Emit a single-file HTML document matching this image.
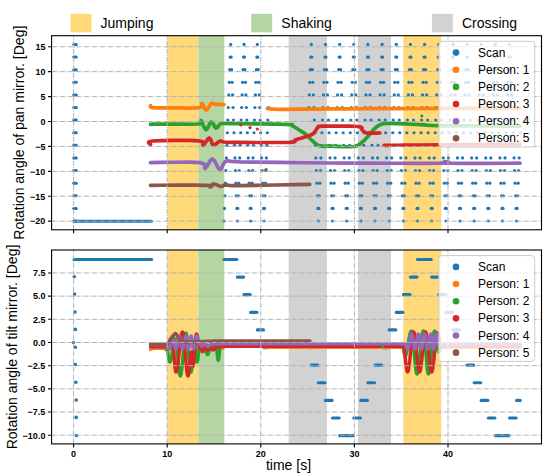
<!DOCTYPE html>
<html><head><meta charset="utf-8"><style>html,body{margin:0;padding:0;background:#fff;width:550px;height:476px;overflow:hidden}svg{display:block}</style></head><body>
<svg width="550" height="476" viewBox="0 0 550 476">
<rect width="550" height="476" fill="#fff"/>
<defs><clipPath id="ct"><rect x="51.6" y="35.7" width="489.9" height="194.1"/></clipPath><clipPath id="cb"><rect x="51.6" y="250" width="489.9" height="193.9"/></clipPath></defs>
<rect x="167.4" y="35.7" width="31" height="194.1" fill="#ffd97a"/>
<rect x="198.4" y="35.7" width="25.9" height="194.1" fill="#b5d6a2"/>
<rect x="288.7" y="35.7" width="38.2" height="194.1" fill="#d2d2d2"/>
<rect x="358" y="35.7" width="33" height="194.1" fill="#d2d2d2"/>
<rect x="403.3" y="35.7" width="38" height="194.1" fill="#ffd97a"/>
<rect x="167.4" y="250" width="31" height="193.9" fill="#ffd97a"/>
<rect x="198.4" y="250" width="25.9" height="193.9" fill="#b5d6a2"/>
<rect x="288.7" y="250" width="38.2" height="193.9" fill="#d2d2d2"/>
<rect x="358" y="250" width="33" height="193.9" fill="#d2d2d2"/>
<rect x="403.3" y="250" width="38" height="193.9" fill="#ffd97a"/>
<g clip-path="url(#ct)">
<g fill="#1f77b4">
<rect x="72.2" y="219.5" width="5.6" height="3" rx="1.5"/>
<rect x="72.2" y="206.89" width="5.6" height="3" rx="1.5"/>
<rect x="72.2" y="194.28" width="5.6" height="3" rx="1.5"/>
<rect x="72.2" y="181.67" width="5.6" height="3" rx="1.5"/>
<rect x="72.2" y="169.06" width="5.6" height="3" rx="1.5"/>
<rect x="72.2" y="156.45" width="5.6" height="3" rx="1.5"/>
<rect x="72.2" y="143.84" width="5.6" height="3" rx="1.5"/>
<rect x="72.2" y="131.23" width="5.6" height="3" rx="1.5"/>
<rect x="72.2" y="118.62" width="5.6" height="3" rx="1.5"/>
<rect x="72.2" y="106.01" width="5.6" height="3" rx="1.5"/>
<rect x="72.2" y="93.4" width="5.6" height="3" rx="1.5"/>
<rect x="72.2" y="80.79" width="5.6" height="3" rx="1.5"/>
<rect x="72.2" y="68.18" width="5.6" height="3" rx="1.5"/>
<rect x="72.2" y="55.57" width="5.6" height="3" rx="1.5"/>
<rect x="72.2" y="42.96" width="5.6" height="3" rx="1.5"/>
</g>
<path d="M74.5 221.2 L151.5 221.2" fill="none" stroke="#1f77b4" stroke-width="3" stroke-linecap="round" stroke-linejoin="round"/>
<g fill="#1f77b4">
<circle cx="224" cy="221" r="1.6"/>
<circle cx="224.48" cy="208.39" r="1.6"/>
<circle cx="224.95" cy="195.78" r="1.6"/>
<circle cx="225.43" cy="183.17" r="1.6"/>
<circle cx="225.9" cy="170.56" r="1.6"/>
<circle cx="226.38" cy="157.95" r="1.6"/>
<circle cx="226.86" cy="145.34" r="1.6"/>
<circle cx="227.33" cy="132.73" r="1.6"/>
<circle cx="227.81" cy="120.12" r="1.6"/>
<circle cx="228.29" cy="107.51" r="1.6"/>
<circle cx="228.76" cy="94.9" r="1.6"/>
<circle cx="229.24" cy="82.29" r="1.6"/>
<circle cx="229.71" cy="69.68" r="1.6"/>
<circle cx="230.19" cy="57.07" r="1.6"/>
<circle cx="230.67" cy="44.46" r="1.6"/>
<circle cx="231.14" cy="57.07" r="1.6"/>
<circle cx="231.62" cy="69.68" r="1.6"/>
<circle cx="232.1" cy="82.29" r="1.6"/>
<circle cx="232.57" cy="94.9" r="1.6"/>
<circle cx="233.05" cy="107.51" r="1.6"/>
<circle cx="233.52" cy="120.12" r="1.6"/>
<circle cx="234" cy="132.73" r="1.6"/>
<circle cx="234.48" cy="145.34" r="1.6"/>
<circle cx="234.95" cy="157.95" r="1.6"/>
<circle cx="235.43" cy="170.56" r="1.6"/>
<circle cx="235.9" cy="183.17" r="1.6"/>
<circle cx="236.38" cy="195.78" r="1.6"/>
<circle cx="236.86" cy="208.39" r="1.6"/>
<circle cx="237.33" cy="221" r="1.6"/>
<circle cx="237.81" cy="208.39" r="1.6"/>
<circle cx="238.29" cy="195.78" r="1.6"/>
<circle cx="238.76" cy="183.17" r="1.6"/>
<circle cx="239.24" cy="170.56" r="1.6"/>
<circle cx="239.71" cy="157.95" r="1.6"/>
<circle cx="240.19" cy="145.34" r="1.6"/>
<circle cx="240.67" cy="132.73" r="1.6"/>
<circle cx="241.14" cy="120.12" r="1.6"/>
<circle cx="241.62" cy="107.51" r="1.6"/>
<circle cx="242.09" cy="94.9" r="1.6"/>
<circle cx="242.57" cy="82.29" r="1.6"/>
<circle cx="243.05" cy="69.68" r="1.6"/>
<circle cx="243.52" cy="57.07" r="1.6"/>
<circle cx="244" cy="44.46" r="1.6"/>
<circle cx="244.48" cy="57.07" r="1.6"/>
<circle cx="244.95" cy="69.68" r="1.6"/>
<circle cx="245.43" cy="82.29" r="1.6"/>
<circle cx="245.9" cy="94.9" r="1.6"/>
<circle cx="246.38" cy="107.51" r="1.6"/>
<circle cx="246.86" cy="120.12" r="1.6"/>
<circle cx="247.33" cy="132.73" r="1.6"/>
<circle cx="247.81" cy="145.34" r="1.6"/>
<circle cx="248.29" cy="157.95" r="1.6"/>
<circle cx="248.76" cy="170.56" r="1.6"/>
<circle cx="249.24" cy="183.17" r="1.6"/>
<circle cx="249.71" cy="195.78" r="1.6"/>
<circle cx="250.19" cy="208.39" r="1.6"/>
<circle cx="250.67" cy="221" r="1.6"/>
<circle cx="251.14" cy="208.39" r="1.6"/>
<circle cx="251.62" cy="195.78" r="1.6"/>
<circle cx="252.09" cy="183.17" r="1.6"/>
<circle cx="252.57" cy="170.56" r="1.6"/>
<circle cx="253.05" cy="157.95" r="1.6"/>
<circle cx="253.52" cy="145.34" r="1.6"/>
<circle cx="254" cy="132.73" r="1.6"/>
<circle cx="254.48" cy="120.12" r="1.6"/>
<circle cx="254.95" cy="107.51" r="1.6"/>
<circle cx="255.43" cy="94.9" r="1.6"/>
<circle cx="255.9" cy="82.29" r="1.6"/>
<circle cx="256.38" cy="69.68" r="1.6"/>
<circle cx="256.86" cy="57.07" r="1.6"/>
<circle cx="257.33" cy="44.46" r="1.6"/>
<circle cx="257.81" cy="57.07" r="1.6"/>
<circle cx="258.28" cy="69.68" r="1.6"/>
<circle cx="258.76" cy="82.29" r="1.6"/>
<circle cx="259.24" cy="94.9" r="1.6"/>
<circle cx="259.71" cy="107.51" r="1.6"/>
<circle cx="260.19" cy="120.12" r="1.6"/>
<circle cx="260.67" cy="132.73" r="1.6"/>
<circle cx="261.14" cy="145.34" r="1.6"/>
<circle cx="261.62" cy="157.95" r="1.6"/>
<circle cx="262.09" cy="170.56" r="1.6"/>
<circle cx="262.57" cy="183.17" r="1.6"/>
<circle cx="263.05" cy="195.78" r="1.6"/>
<circle cx="263.52" cy="208.39" r="1.6"/>
<circle cx="264" cy="221" r="1.6"/>
<circle cx="264.48" cy="208.39" r="1.6"/>
<circle cx="264.95" cy="195.78" r="1.6"/>
<circle cx="265.43" cy="183.17" r="1.6"/>
<circle cx="265.9" cy="170.56" r="1.6"/>
<circle cx="266.38" cy="157.95" r="1.6"/>
<circle cx="266.86" cy="145.34" r="1.6"/>
<circle cx="267.33" cy="132.73" r="1.6"/>
<circle cx="267.81" cy="120.12" r="1.6"/>
<circle cx="268.28" cy="107.51" r="1.6"/>
<circle cx="308.79" cy="107.51" r="1.6"/>
<circle cx="309.3" cy="94.9" r="1.6"/>
<circle cx="309.8" cy="82.29" r="1.6"/>
<circle cx="310.31" cy="69.68" r="1.6"/>
<circle cx="310.81" cy="57.07" r="1.6"/>
<circle cx="311.32" cy="44.46" r="1.6"/>
<circle cx="311.83" cy="57.07" r="1.6"/>
<circle cx="312.33" cy="69.68" r="1.6"/>
<circle cx="312.84" cy="82.29" r="1.6"/>
<circle cx="313.34" cy="94.9" r="1.6"/>
<circle cx="313.85" cy="107.51" r="1.6"/>
<circle cx="314.35" cy="120.12" r="1.6"/>
<circle cx="314.86" cy="132.73" r="1.6"/>
<circle cx="315.37" cy="145.34" r="1.6"/>
<circle cx="315.87" cy="157.95" r="1.6"/>
<circle cx="316.38" cy="170.56" r="1.6"/>
<circle cx="316.88" cy="183.17" r="1.6"/>
<circle cx="317.39" cy="195.78" r="1.6"/>
<circle cx="317.89" cy="208.39" r="1.6"/>
<circle cx="318.4" cy="221" r="1.6"/>
<circle cx="318.91" cy="208.39" r="1.6"/>
<circle cx="319.41" cy="195.78" r="1.6"/>
<circle cx="319.92" cy="183.17" r="1.6"/>
<circle cx="320.42" cy="170.56" r="1.6"/>
<circle cx="320.93" cy="157.95" r="1.6"/>
<circle cx="321.43" cy="145.34" r="1.6"/>
<circle cx="321.94" cy="132.73" r="1.6"/>
<circle cx="322.45" cy="120.12" r="1.6"/>
<circle cx="322.95" cy="107.51" r="1.6"/>
<circle cx="323.46" cy="94.9" r="1.6"/>
<circle cx="323.96" cy="82.29" r="1.6"/>
<circle cx="324.47" cy="69.68" r="1.6"/>
<circle cx="324.97" cy="57.07" r="1.6"/>
<circle cx="325.48" cy="44.46" r="1.6"/>
<circle cx="325.99" cy="57.07" r="1.6"/>
<circle cx="326.49" cy="69.68" r="1.6"/>
<circle cx="327" cy="82.29" r="1.6"/>
<circle cx="327.5" cy="94.9" r="1.6"/>
<circle cx="328.01" cy="107.51" r="1.6"/>
<circle cx="328.51" cy="120.12" r="1.6"/>
<circle cx="329.02" cy="132.73" r="1.6"/>
<circle cx="329.53" cy="145.34" r="1.6"/>
<circle cx="330.03" cy="157.95" r="1.6"/>
<circle cx="330.54" cy="170.56" r="1.6"/>
<circle cx="331.04" cy="183.17" r="1.6"/>
<circle cx="331.55" cy="195.78" r="1.6"/>
<circle cx="332.05" cy="208.39" r="1.6"/>
<circle cx="332.56" cy="221" r="1.6"/>
<circle cx="333.07" cy="208.39" r="1.6"/>
<circle cx="333.57" cy="195.78" r="1.6"/>
<circle cx="334.08" cy="183.17" r="1.6"/>
<circle cx="334.58" cy="170.56" r="1.6"/>
<circle cx="335.09" cy="157.95" r="1.6"/>
<circle cx="335.59" cy="145.34" r="1.6"/>
<circle cx="336.1" cy="132.73" r="1.6"/>
<circle cx="336.61" cy="120.12" r="1.6"/>
<circle cx="337.11" cy="107.51" r="1.6"/>
<circle cx="337.62" cy="94.9" r="1.6"/>
<circle cx="338.12" cy="82.29" r="1.6"/>
<circle cx="338.63" cy="69.68" r="1.6"/>
<circle cx="339.13" cy="57.07" r="1.6"/>
<circle cx="339.64" cy="44.46" r="1.6"/>
<circle cx="340.15" cy="57.07" r="1.6"/>
<circle cx="340.65" cy="69.68" r="1.6"/>
<circle cx="341.16" cy="82.29" r="1.6"/>
<circle cx="341.66" cy="94.9" r="1.6"/>
<circle cx="342.17" cy="107.51" r="1.6"/>
<circle cx="342.67" cy="120.12" r="1.6"/>
<circle cx="343.18" cy="132.73" r="1.6"/>
<circle cx="343.69" cy="145.34" r="1.6"/>
<circle cx="344.19" cy="157.95" r="1.6"/>
<circle cx="344.7" cy="170.56" r="1.6"/>
<circle cx="345.2" cy="183.17" r="1.6"/>
<circle cx="345.71" cy="195.78" r="1.6"/>
<circle cx="346.21" cy="208.39" r="1.6"/>
<circle cx="346.72" cy="221" r="1.6"/>
<circle cx="347.23" cy="208.39" r="1.6"/>
<circle cx="347.73" cy="195.78" r="1.6"/>
<circle cx="348.24" cy="183.17" r="1.6"/>
<circle cx="348.74" cy="170.56" r="1.6"/>
<circle cx="349.25" cy="157.95" r="1.6"/>
<circle cx="349.75" cy="145.34" r="1.6"/>
<circle cx="350.26" cy="132.73" r="1.6"/>
<circle cx="350.77" cy="120.12" r="1.6"/>
<circle cx="351.27" cy="107.51" r="1.6"/>
<circle cx="351.78" cy="94.9" r="1.6"/>
<circle cx="352.28" cy="82.29" r="1.6"/>
<circle cx="352.79" cy="69.68" r="1.6"/>
<circle cx="353.29" cy="57.07" r="1.6"/>
<circle cx="353.8" cy="44.46" r="1.6"/>
<circle cx="354.31" cy="57.07" r="1.6"/>
<circle cx="354.81" cy="69.68" r="1.6"/>
<circle cx="355.32" cy="82.29" r="1.6"/>
<circle cx="355.82" cy="94.9" r="1.6"/>
<circle cx="356.33" cy="107.51" r="1.6"/>
<circle cx="356.83" cy="120.12" r="1.6"/>
<circle cx="357.34" cy="132.73" r="1.6"/>
<circle cx="357.85" cy="145.34" r="1.6"/>
<circle cx="358.35" cy="157.95" r="1.6"/>
<circle cx="358.86" cy="170.56" r="1.6"/>
<circle cx="359.36" cy="183.17" r="1.6"/>
<circle cx="359.87" cy="195.78" r="1.6"/>
<circle cx="360.37" cy="208.39" r="1.6"/>
<circle cx="360.88" cy="221" r="1.6"/>
<circle cx="361.39" cy="208.39" r="1.6"/>
<circle cx="361.89" cy="195.78" r="1.6"/>
<circle cx="362.4" cy="183.17" r="1.6"/>
<circle cx="362.9" cy="170.56" r="1.6"/>
<circle cx="363.41" cy="157.95" r="1.6"/>
<circle cx="363.91" cy="145.34" r="1.6"/>
<circle cx="364.42" cy="132.73" r="1.6"/>
<circle cx="364.93" cy="120.12" r="1.6"/>
<circle cx="365.43" cy="107.51" r="1.6"/>
<circle cx="365.94" cy="94.9" r="1.6"/>
<circle cx="366.44" cy="82.29" r="1.6"/>
<circle cx="366.95" cy="69.68" r="1.6"/>
<circle cx="367.45" cy="57.07" r="1.6"/>
<circle cx="367.96" cy="44.46" r="1.6"/>
<circle cx="368.47" cy="57.07" r="1.6"/>
<circle cx="368.97" cy="69.68" r="1.6"/>
<circle cx="369.48" cy="82.29" r="1.6"/>
<circle cx="369.98" cy="94.9" r="1.6"/>
<circle cx="370.49" cy="107.51" r="1.6"/>
<circle cx="370.99" cy="120.12" r="1.6"/>
<circle cx="371.5" cy="132.73" r="1.6"/>
<circle cx="372.01" cy="145.34" r="1.6"/>
<circle cx="372.51" cy="157.95" r="1.6"/>
<circle cx="373.02" cy="170.56" r="1.6"/>
<circle cx="373.52" cy="183.17" r="1.6"/>
<circle cx="374.03" cy="195.78" r="1.6"/>
<circle cx="374.53" cy="208.39" r="1.6"/>
<circle cx="375.04" cy="221" r="1.6"/>
<circle cx="375.55" cy="208.39" r="1.6"/>
<circle cx="376.05" cy="195.78" r="1.6"/>
<circle cx="376.56" cy="183.17" r="1.6"/>
<circle cx="377.06" cy="170.56" r="1.6"/>
<circle cx="377.57" cy="157.95" r="1.6"/>
<circle cx="378.07" cy="145.34" r="1.6"/>
<circle cx="378.58" cy="132.73" r="1.6"/>
<circle cx="379.09" cy="120.12" r="1.6"/>
<circle cx="379.59" cy="107.51" r="1.6"/>
<circle cx="380.1" cy="94.9" r="1.6"/>
<circle cx="380.6" cy="82.29" r="1.6"/>
<circle cx="381.11" cy="69.68" r="1.6"/>
<circle cx="381.61" cy="57.07" r="1.6"/>
<circle cx="382.12" cy="44.46" r="1.6"/>
<circle cx="382.63" cy="57.07" r="1.6"/>
<circle cx="383.13" cy="69.68" r="1.6"/>
<circle cx="383.64" cy="82.29" r="1.6"/>
<circle cx="384.14" cy="94.9" r="1.6"/>
<circle cx="384.65" cy="107.51" r="1.6"/>
<circle cx="385.15" cy="120.12" r="1.6"/>
<circle cx="385.66" cy="132.73" r="1.6"/>
<circle cx="386.17" cy="145.34" r="1.6"/>
<circle cx="386.67" cy="157.95" r="1.6"/>
<circle cx="387.18" cy="170.56" r="1.6"/>
<circle cx="387.68" cy="183.17" r="1.6"/>
<circle cx="388.19" cy="195.78" r="1.6"/>
<circle cx="388.69" cy="208.39" r="1.6"/>
<circle cx="389.2" cy="221" r="1.6"/>
<circle cx="389.71" cy="208.39" r="1.6"/>
<circle cx="390.21" cy="195.78" r="1.6"/>
<circle cx="390.72" cy="183.17" r="1.6"/>
<circle cx="391.22" cy="170.56" r="1.6"/>
<circle cx="391.73" cy="157.95" r="1.6"/>
<circle cx="392.23" cy="145.34" r="1.6"/>
<circle cx="392.74" cy="132.73" r="1.6"/>
<circle cx="393.25" cy="120.12" r="1.6"/>
<circle cx="393.75" cy="107.51" r="1.6"/>
<circle cx="394.26" cy="94.9" r="1.6"/>
<circle cx="394.76" cy="82.29" r="1.6"/>
<circle cx="395.27" cy="69.68" r="1.6"/>
<circle cx="395.77" cy="57.07" r="1.6"/>
<circle cx="396.28" cy="44.46" r="1.6"/>
<circle cx="396.79" cy="57.07" r="1.6"/>
<circle cx="397.29" cy="69.68" r="1.6"/>
<circle cx="397.8" cy="82.29" r="1.6"/>
<circle cx="398.3" cy="94.9" r="1.6"/>
<circle cx="398.81" cy="107.51" r="1.6"/>
<circle cx="399.31" cy="120.12" r="1.6"/>
<circle cx="399.82" cy="132.73" r="1.6"/>
<circle cx="400.33" cy="145.34" r="1.6"/>
<circle cx="400.83" cy="157.95" r="1.6"/>
<circle cx="401.34" cy="170.56" r="1.6"/>
<circle cx="401.84" cy="183.17" r="1.6"/>
<circle cx="402.35" cy="195.78" r="1.6"/>
<circle cx="402.85" cy="208.39" r="1.6"/>
<circle cx="403.36" cy="221" r="1.6"/>
<circle cx="403.87" cy="208.39" r="1.6"/>
<circle cx="404.37" cy="195.78" r="1.6"/>
<circle cx="404.88" cy="183.17" r="1.6"/>
<circle cx="405.38" cy="170.56" r="1.6"/>
<circle cx="405.89" cy="157.95" r="1.6"/>
<circle cx="406.39" cy="145.34" r="1.6"/>
<circle cx="406.9" cy="132.73" r="1.6"/>
<circle cx="407.41" cy="120.12" r="1.6"/>
<circle cx="407.91" cy="107.51" r="1.6"/>
<circle cx="408.42" cy="94.9" r="1.6"/>
<circle cx="408.92" cy="82.29" r="1.6"/>
<circle cx="409.43" cy="69.68" r="1.6"/>
<circle cx="409.93" cy="57.07" r="1.6"/>
<circle cx="410.44" cy="44.46" r="1.6"/>
<circle cx="410.95" cy="57.07" r="1.6"/>
<circle cx="411.45" cy="69.68" r="1.6"/>
<circle cx="411.96" cy="82.29" r="1.6"/>
<circle cx="412.46" cy="94.9" r="1.6"/>
<circle cx="412.97" cy="107.51" r="1.6"/>
<circle cx="413.47" cy="120.12" r="1.6"/>
<circle cx="413.98" cy="132.73" r="1.6"/>
<circle cx="414.49" cy="145.34" r="1.6"/>
<circle cx="414.99" cy="157.95" r="1.6"/>
<circle cx="415.5" cy="170.56" r="1.6"/>
<circle cx="416" cy="183.17" r="1.6"/>
<circle cx="416.51" cy="195.78" r="1.6"/>
<circle cx="417.01" cy="208.39" r="1.6"/>
<circle cx="417.52" cy="221" r="1.6"/>
<circle cx="418.03" cy="208.39" r="1.6"/>
<circle cx="418.53" cy="195.78" r="1.6"/>
<circle cx="419.04" cy="183.17" r="1.6"/>
<circle cx="419.54" cy="170.56" r="1.6"/>
<circle cx="420.05" cy="157.95" r="1.6"/>
<circle cx="420.55" cy="145.34" r="1.6"/>
<circle cx="421.06" cy="132.73" r="1.6"/>
<circle cx="421.57" cy="120.12" r="1.6"/>
<circle cx="422.07" cy="107.51" r="1.6"/>
<circle cx="422.58" cy="94.9" r="1.6"/>
<circle cx="423.08" cy="82.29" r="1.6"/>
<circle cx="423.59" cy="69.68" r="1.6"/>
<circle cx="424.09" cy="57.07" r="1.6"/>
<circle cx="424.6" cy="44.46" r="1.6"/>
<circle cx="425.11" cy="57.07" r="1.6"/>
<circle cx="425.61" cy="69.68" r="1.6"/>
<circle cx="426.12" cy="82.29" r="1.6"/>
<circle cx="426.62" cy="94.9" r="1.6"/>
<circle cx="427.13" cy="107.51" r="1.6"/>
<circle cx="427.63" cy="120.12" r="1.6"/>
<circle cx="428.14" cy="132.73" r="1.6"/>
<circle cx="428.65" cy="145.34" r="1.6"/>
<circle cx="429.15" cy="157.95" r="1.6"/>
<circle cx="429.66" cy="170.56" r="1.6"/>
<circle cx="430.16" cy="183.17" r="1.6"/>
<circle cx="430.67" cy="195.78" r="1.6"/>
<circle cx="431.17" cy="208.39" r="1.6"/>
<circle cx="431.68" cy="221" r="1.6"/>
<circle cx="432.19" cy="208.39" r="1.6"/>
<circle cx="432.69" cy="195.78" r="1.6"/>
<circle cx="433.2" cy="183.17" r="1.6"/>
<circle cx="433.7" cy="170.56" r="1.6"/>
<circle cx="434.21" cy="157.95" r="1.6"/>
<circle cx="434.71" cy="145.34" r="1.6"/>
<circle cx="435.22" cy="132.73" r="1.6"/>
<circle cx="435.73" cy="120.12" r="1.6"/>
<circle cx="436.23" cy="107.51" r="1.6"/>
<circle cx="436.74" cy="94.9" r="1.6"/>
<circle cx="437.24" cy="82.29" r="1.6"/>
<circle cx="437.75" cy="69.68" r="1.6"/>
<circle cx="438.25" cy="57.07" r="1.6"/>
<circle cx="438.76" cy="44.46" r="1.6"/>
<circle cx="439.27" cy="57.07" r="1.6"/>
<circle cx="439.77" cy="69.68" r="1.6"/>
<circle cx="440.28" cy="82.29" r="1.6"/>
<circle cx="440.78" cy="94.9" r="1.6"/>
<circle cx="441.29" cy="107.51" r="1.6"/>
<circle cx="441.79" cy="120.12" r="1.6"/>
<circle cx="442.3" cy="132.73" r="1.6"/>
<circle cx="442.81" cy="145.34" r="1.6"/>
<circle cx="443.31" cy="157.95" r="1.6"/>
<circle cx="443.82" cy="170.56" r="1.6"/>
<circle cx="444.32" cy="183.17" r="1.6"/>
<circle cx="444.83" cy="195.78" r="1.6"/>
<circle cx="445.33" cy="208.39" r="1.6"/>
<circle cx="445.84" cy="221" r="1.6"/>
<circle cx="446.35" cy="208.39" r="1.6"/>
<circle cx="446.85" cy="195.78" r="1.6"/>
<circle cx="447.36" cy="183.17" r="1.6"/>
<circle cx="447.86" cy="170.56" r="1.6"/>
<circle cx="448.37" cy="157.95" r="1.6"/>
<circle cx="448.87" cy="145.34" r="1.6"/>
<circle cx="449.38" cy="132.73" r="1.6"/>
<circle cx="449.89" cy="120.12" r="1.6"/>
<circle cx="450.39" cy="107.51" r="1.6"/>
<circle cx="450.9" cy="94.9" r="1.6"/>
<circle cx="451.4" cy="82.29" r="1.6"/>
<circle cx="451.91" cy="69.68" r="1.6"/>
<circle cx="452.41" cy="57.07" r="1.6"/>
<circle cx="452.92" cy="44.46" r="1.6"/>
<circle cx="453.43" cy="57.07" r="1.6"/>
<circle cx="453.93" cy="69.68" r="1.6"/>
<circle cx="454.44" cy="82.29" r="1.6"/>
<circle cx="454.94" cy="94.9" r="1.6"/>
<circle cx="455.45" cy="107.51" r="1.6"/>
<circle cx="455.95" cy="120.12" r="1.6"/>
<circle cx="456.46" cy="132.73" r="1.6"/>
<circle cx="456.97" cy="145.34" r="1.6"/>
<circle cx="457.47" cy="157.95" r="1.6"/>
<circle cx="457.98" cy="170.56" r="1.6"/>
<circle cx="458.48" cy="183.17" r="1.6"/>
<circle cx="458.99" cy="195.78" r="1.6"/>
<circle cx="459.49" cy="208.39" r="1.6"/>
<circle cx="460" cy="221" r="1.6"/>
<circle cx="460.51" cy="208.39" r="1.6"/>
<circle cx="461.01" cy="195.78" r="1.6"/>
<circle cx="461.52" cy="183.17" r="1.6"/>
<circle cx="462.02" cy="170.56" r="1.6"/>
<circle cx="462.53" cy="157.95" r="1.6"/>
<circle cx="463.03" cy="145.34" r="1.6"/>
<circle cx="463.54" cy="132.73" r="1.6"/>
<circle cx="464.05" cy="120.12" r="1.6"/>
<circle cx="464.55" cy="107.51" r="1.6"/>
<circle cx="465.06" cy="94.9" r="1.6"/>
<circle cx="465.56" cy="82.29" r="1.6"/>
<circle cx="466.07" cy="69.68" r="1.6"/>
<circle cx="466.57" cy="57.07" r="1.6"/>
<circle cx="467.08" cy="44.46" r="1.6"/>
<circle cx="467.59" cy="57.07" r="1.6"/>
<circle cx="468.09" cy="69.68" r="1.6"/>
<circle cx="468.6" cy="82.29" r="1.6"/>
<circle cx="469.1" cy="94.9" r="1.6"/>
<circle cx="469.61" cy="107.51" r="1.6"/>
<circle cx="470.11" cy="120.12" r="1.6"/>
<circle cx="470.62" cy="132.73" r="1.6"/>
<circle cx="471.13" cy="145.34" r="1.6"/>
<circle cx="471.63" cy="157.95" r="1.6"/>
<circle cx="472.14" cy="170.56" r="1.6"/>
<circle cx="472.64" cy="183.17" r="1.6"/>
<circle cx="473.15" cy="195.78" r="1.6"/>
<circle cx="473.65" cy="208.39" r="1.6"/>
<circle cx="474.16" cy="221" r="1.6"/>
<circle cx="474.67" cy="208.39" r="1.6"/>
<circle cx="475.17" cy="195.78" r="1.6"/>
<circle cx="475.68" cy="183.17" r="1.6"/>
<circle cx="476.18" cy="170.56" r="1.6"/>
<circle cx="476.69" cy="157.95" r="1.6"/>
<circle cx="477.19" cy="145.34" r="1.6"/>
<circle cx="477.7" cy="132.73" r="1.6"/>
<circle cx="478.21" cy="120.12" r="1.6"/>
<circle cx="478.71" cy="107.51" r="1.6"/>
<circle cx="479.22" cy="94.9" r="1.6"/>
<circle cx="479.72" cy="82.29" r="1.6"/>
<circle cx="480.23" cy="69.68" r="1.6"/>
<circle cx="480.73" cy="57.07" r="1.6"/>
<circle cx="481.24" cy="44.46" r="1.6"/>
<circle cx="481.75" cy="57.07" r="1.6"/>
<circle cx="482.25" cy="69.68" r="1.6"/>
<circle cx="482.76" cy="82.29" r="1.6"/>
<circle cx="483.26" cy="94.9" r="1.6"/>
<circle cx="483.77" cy="107.51" r="1.6"/>
<circle cx="484.27" cy="120.12" r="1.6"/>
<circle cx="484.78" cy="132.73" r="1.6"/>
<circle cx="485.29" cy="145.34" r="1.6"/>
<circle cx="485.79" cy="157.95" r="1.6"/>
<circle cx="486.3" cy="170.56" r="1.6"/>
<circle cx="486.8" cy="183.17" r="1.6"/>
<circle cx="487.31" cy="195.78" r="1.6"/>
<circle cx="487.81" cy="208.39" r="1.6"/>
<circle cx="488.32" cy="221" r="1.6"/>
<circle cx="488.83" cy="208.39" r="1.6"/>
<circle cx="489.33" cy="195.78" r="1.6"/>
<circle cx="489.84" cy="183.17" r="1.6"/>
<circle cx="490.34" cy="170.56" r="1.6"/>
<circle cx="490.85" cy="157.95" r="1.6"/>
<circle cx="491.35" cy="145.34" r="1.6"/>
<circle cx="491.86" cy="132.73" r="1.6"/>
<circle cx="492.37" cy="120.12" r="1.6"/>
<circle cx="492.87" cy="107.51" r="1.6"/>
<circle cx="493.38" cy="94.9" r="1.6"/>
<circle cx="493.88" cy="82.29" r="1.6"/>
<circle cx="494.39" cy="69.68" r="1.6"/>
<circle cx="494.89" cy="57.07" r="1.6"/>
<circle cx="495.4" cy="44.46" r="1.6"/>
<circle cx="495.91" cy="57.07" r="1.6"/>
<circle cx="496.41" cy="69.68" r="1.6"/>
<circle cx="496.92" cy="82.29" r="1.6"/>
<circle cx="497.42" cy="94.9" r="1.6"/>
<circle cx="497.93" cy="107.51" r="1.6"/>
<circle cx="498.43" cy="120.12" r="1.6"/>
<circle cx="498.94" cy="132.73" r="1.6"/>
<circle cx="499.45" cy="145.34" r="1.6"/>
<circle cx="499.95" cy="157.95" r="1.6"/>
<circle cx="500.46" cy="170.56" r="1.6"/>
<circle cx="500.96" cy="183.17" r="1.6"/>
<circle cx="501.47" cy="195.78" r="1.6"/>
<circle cx="501.97" cy="208.39" r="1.6"/>
<circle cx="502.48" cy="221" r="1.6"/>
<circle cx="502.99" cy="208.39" r="1.6"/>
<circle cx="503.49" cy="195.78" r="1.6"/>
<circle cx="504" cy="183.17" r="1.6"/>
<circle cx="504.5" cy="170.56" r="1.6"/>
<circle cx="505.01" cy="157.95" r="1.6"/>
<circle cx="505.51" cy="145.34" r="1.6"/>
<circle cx="506.02" cy="132.73" r="1.6"/>
<circle cx="506.53" cy="120.12" r="1.6"/>
<circle cx="507.03" cy="107.51" r="1.6"/>
<circle cx="507.54" cy="94.9" r="1.6"/>
<circle cx="508.04" cy="82.29" r="1.6"/>
<circle cx="508.55" cy="69.68" r="1.6"/>
<circle cx="509.05" cy="57.07" r="1.6"/>
<circle cx="509.56" cy="44.46" r="1.6"/>
<circle cx="510.07" cy="57.07" r="1.6"/>
<circle cx="510.57" cy="69.68" r="1.6"/>
<circle cx="511.08" cy="82.29" r="1.6"/>
<circle cx="511.58" cy="94.9" r="1.6"/>
<circle cx="512.09" cy="107.51" r="1.6"/>
<circle cx="512.59" cy="120.12" r="1.6"/>
<circle cx="513.1" cy="132.73" r="1.6"/>
<circle cx="513.61" cy="145.34" r="1.6"/>
<circle cx="514.11" cy="157.95" r="1.6"/>
<circle cx="514.62" cy="170.56" r="1.6"/>
<circle cx="515.12" cy="183.17" r="1.6"/>
<circle cx="515.63" cy="195.78" r="1.6"/>
<circle cx="516.13" cy="208.39" r="1.6"/>
<circle cx="516.64" cy="221" r="1.6"/>
<circle cx="517.15" cy="208.39" r="1.6"/>
<circle cx="517.65" cy="195.78" r="1.6"/>
<circle cx="518.16" cy="183.17" r="1.6"/>
<circle cx="518.66" cy="170.56" r="1.6"/>
<circle cx="519.17" cy="157.95" r="1.6"/>
<circle cx="519.67" cy="145.34" r="1.6"/>
<circle cx="520.18" cy="132.73" r="1.6"/>
</g>
<path d="M150.5 105.5 L150.49 105.92 L150.38 106.53 L150.95 107.15 L153 107.6 L157.08 107.82 L162.66 107.9 L168.9 107.91 L175 107.9 L181.35 107.96 L188.19 108.03 L194.43 107.96 L199 107.6 L201.2 106.57 L201.74 105.06 L201.66 103.77 L202 103.4 L202.94 104.62 L203.96 106.91 L205.05 109.11 L206.2 110.1 L207.47 109.19 L208.84 107.11 L210.19 104.85 L211.4 103.4 L212.29 103.11 L212.96 103.42 L213.76 103.95 L215 104.3 L217.08 104.4 L219.72 104.46 L222.26 104.48 L224 104.5" fill="none" stroke="#ff7f0e" stroke-width="3.7" stroke-linecap="round" stroke-linejoin="round"/>
<path d="M267.4 108.4 L268.79 108.59 L270.57 108.88 L273.92 109.15 L280 109.3 L288.93 109.29 L300.16 109.18 L313.81 109.03 L330 108.9 L349.45 108.8 L371.88 108.69 L395.86 108.59 L420 108.5 L446.64 108.41 L475.62 108.33 L501.8 108.25 L520 108.2" fill="none" stroke="#ff7f0e" stroke-width="3.7" stroke-linecap="round" stroke-linejoin="round"/>
<path d="M150.5 124.4 L151.52 124.32 L152.81 124.2 L155.33 124.08 L160 124 L168.54 124.05 L179.97 124.19 L191.16 124.23 L199 124 L202.03 123.1 L202.12 121.73 L201.16 120.65 L201 120.6 L202.03 122.39 L203.29 125.42 L204.65 128.32 L206 129.7 L207.34 128.61 L208.73 125.97 L210.1 123.25 L211.4 121.9 L212.6 122.74 L213.73 124.86 L214.84 127.08 L216 128.2 L217.13 127.66 L218.22 126.18 L219.46 124.51 L221 123.4 L221.85 123.08 L222.27 123.15 L224.3 123.39 L230 123.6 L242.03 123.75 L258.58 123.94 L275.02 124.16 L286.7 124.4 L291.58 124.57 L292.41 124.7 L291.71 124.96 L292 125.5 L293.79 126.45 L295.79 127.71 L297.82 129.06 L299.7 130.3 L301.38 131.35 L302.96 132.33 L304.48 133.34 L306 134.5 L307.49 135.89 L308.94 137.43 L310.42 139.01 L312 140.5 L313.65 141.99 L315.36 143.5 L317.21 144.84 L319.3 145.8 L321.43 146.25 L323.63 146.31 L326.34 146.22 L330 146.2 L335.35 146.39 L341.94 146.64 L348.47 146.74 L353.6 146.5 L356.82 145.82 L358.88 144.81 L360.4 143.6 L362 142.3 L363.72 140.9 L365.28 139.35 L366.77 137.7 L368.3 136 L369.87 134.15 L371.44 132.17 L373.02 130.25 L374.6 128.6 L376.15 127.25 L377.68 126.1 L379.26 125.15 L381 124.4 L382.42 123.87 L383.63 123.56 L385.61 123.42 L389.3 123.4 L395.65 123.55 L403.92 123.87 L412.55 124.26 L420 124.6 L424.35 124.9 L426.92 125.19 L431.03 125.47 L440 125.7 L457.66 125.88 L481.25 126.02 L504.22 126.12 L520 126.2" fill="none" stroke="#2ca02c" stroke-width="3.7" stroke-linecap="round" stroke-linejoin="round"/>
<path d="M150.5 144.4 L149.82 143.71 L148.59 142.71 L148.82 141.7 L152.5 141 L161.99 140.61 L175.62 140.4 L189.32 140.44 L199 140.8 L202.93 141.89 L203.51 143.55 L202.83 144.98 L203 145.4 L204.46 144.05 L206.14 141.53 L207.82 139.09 L209.3 138 L210.44 139.08 L211.39 141.5 L212.34 144.02 L213.5 145.4 L214.88 145.04 L216.39 143.69 L218.08 142.15 L220 141.2 L221.11 141.13 L221.73 141.49 L223.99 141.98 L230 142.3 L242.5 142.43 L259.64 142.51 L276.65 142.49 L288.8 142.3 L294.03 141.88 L295.15 141.28 L294.64 140.61 L295 140 L296.61 139.48 L298.24 138.99 L299.95 138.48 L301.8 137.9 L303.99 137.21 L306.41 136.44 L308.73 135.68 L310.6 135 L311.86 134.46 L312.73 134.01 L313.38 133.55 L314 133 L314.59 132.32 L315.08 131.55 L315.52 130.76 L316 130 L316.5 129.24 L316.99 128.47 L317.53 127.77 L318.2 127.2 L318.29 126.79 L318 126.51 L318.76 126.32 L322 126.2 L329.44 126.12 L339.87 126.09 L350.32 126.19 L357.8 126.5 L361.07 127.1 L361.88 127.92 L361.69 128.84 L362 129.7 L362.83 130.55 L363.51 131.44 L364.48 132.23 L366.2 132.8 L369.28 133.06 L373.31 133.09 L377.22 133.03 L379.9 133" fill="none" stroke="#d62728" stroke-width="3.7" stroke-linecap="round" stroke-linejoin="round"/>
<path d="M384 145.4 L388.97 145.34 L395.75 145.24 L405.66 145.13 L420 145 L442.84 144.83 L472.25 144.62 L500.53 144.43 L520 144.3" fill="none" stroke="#d62728" stroke-width="3.7" stroke-linecap="round" stroke-linejoin="round"/>
<path d="M150.5 162.6 L160.44 162.46 L174.94 162.23 L189.59 162.19 L200 162.6 L204.32 164.02 L205.12 166.14 L204.62 167.97 L205 168.5 L206.7 166.74 L208.61 163.46 L210.58 160.32 L212.5 159 L214.36 160.68 L216.23 164.23 L218.06 167.81 L219.8 169.6 L221.24 168.62 L222.48 166.02 L223.93 163.11 L226 161.2 L227.17 160.7 L227.76 160.9 L230.97 161.4 L240 161.8 L256.69 162.08 L279 162.43 L304.31 162.76 L330 163 L358.55 163.16 L390.31 163.27 L419.41 163.3 L440 163.2 L448.63 162.85 L449.06 162.31 L446.21 161.82 L445 161.6 L444.73 161.81 L443.44 162.3 L444.18 162.84 L450 163.2 L464.57 163.31 L485.31 163.3 L505.9 163.24 L520 163.2" fill="none" stroke="#9467bd" stroke-width="3.7" stroke-linecap="round" stroke-linejoin="round"/>
<path d="M150.5 185.3 L161.91 185.26 L178.56 185.19 L195.31 185.18 L207 185.3 L211.51 185.72 L211.84 186.34 L210.5 186.87 L210 187 L210.73 186.49 L211.44 185.54 L212.18 184.58 L213 184 L213.93 183.96 L214.94 184.22 L215.98 184.62 L217 185 L217.98 185.41 L218.94 185.91 L219.93 186.32 L221 186.5 L221.97 186.29 L222.88 185.81 L224.09 185.3 L226 185 L227.56 185.05 L228.95 185.29 L232.37 185.53 L240 185.6 L255.16 185.38 L275.77 184.99 L295.95 184.58 L309.8 184.3" fill="none" stroke="#8c564b" stroke-width="3.7" stroke-linecap="round" stroke-linejoin="round"/>
<circle cx="240.9" cy="125" r="1.6" fill="#d62728"/><circle cx="250" cy="127.6" r="1.6" fill="#d62728"/><circle cx="257.3" cy="129" r="1.6" fill="#d62728"/>
<circle cx="266.1" cy="169.6" r="1.6" fill="#8c564b"/><circle cx="421.8" cy="115.9" r="1.6" fill="#2ca02c"/>
</g>
<g clip-path="url(#cb)">
<g fill="#1f77b4">
<circle cx="74.3" cy="276.7" r="1.8"/>
<circle cx="74.5" cy="294.1" r="1.8"/>
<circle cx="75" cy="312" r="1.8"/>
<circle cx="75.4" cy="329.4" r="1.8"/>
<circle cx="73.5" cy="342.6" r="1.8"/>
<circle cx="75.3" cy="347.2" r="1.8"/>
<circle cx="75.3" cy="364.6" r="1.8"/>
<circle cx="75.8" cy="382.3" r="1.8"/>
<circle cx="76.2" cy="400.1" r="1.8"/>
<circle cx="76.2" cy="417.4" r="1.8"/>
<circle cx="76.5" cy="435.5" r="1.8"/>
</g>
<path d="M73.9 259.5 L151.7 259.5" fill="none" stroke="#1f77b4" stroke-width="3" stroke-linecap="round" stroke-linejoin="round"/>
<path d="M224 259.5 L236.86 259.5" fill="none" stroke="#1f77b4" stroke-width="3.2" stroke-linecap="round" stroke-linejoin="round"/>
<path d="M237.33 277.11 L243.52 277.11" fill="none" stroke="#1f77b4" stroke-width="3.2" stroke-linecap="round" stroke-linejoin="round"/>
<path d="M244 294.72 L250.19 294.72" fill="none" stroke="#1f77b4" stroke-width="3.2" stroke-linecap="round" stroke-linejoin="round"/>
<path d="M250.67 312.33 L256.86 312.33" fill="none" stroke="#1f77b4" stroke-width="3.2" stroke-linecap="round" stroke-linejoin="round"/>
<path d="M257.33 329.94 L263.52 329.94" fill="none" stroke="#1f77b4" stroke-width="3.2" stroke-linecap="round" stroke-linejoin="round"/>
<path d="M264 347.55 L268.28 347.55" fill="none" stroke="#1f77b4" stroke-width="3.2" stroke-linecap="round" stroke-linejoin="round"/>
<path d="M308.79 347.55 L310.81 347.55" fill="none" stroke="#1f77b4" stroke-width="3.2" stroke-linecap="round" stroke-linejoin="round"/>
<path d="M311.32 365.16 L317.89 365.16" fill="none" stroke="#1f77b4" stroke-width="3.2" stroke-linecap="round" stroke-linejoin="round"/>
<path d="M318.4 382.77 L324.97 382.77" fill="none" stroke="#1f77b4" stroke-width="3.2" stroke-linecap="round" stroke-linejoin="round"/>
<path d="M325.48 400.38 L332.05 400.38" fill="none" stroke="#1f77b4" stroke-width="3.2" stroke-linecap="round" stroke-linejoin="round"/>
<path d="M332.56 417.99 L339.13 417.99" fill="none" stroke="#1f77b4" stroke-width="3.2" stroke-linecap="round" stroke-linejoin="round"/>
<path d="M339.64 435.6 L353.29 435.6" fill="none" stroke="#1f77b4" stroke-width="3.2" stroke-linecap="round" stroke-linejoin="round"/>
<path d="M353.8 417.99 L360.37 417.99" fill="none" stroke="#1f77b4" stroke-width="3.2" stroke-linecap="round" stroke-linejoin="round"/>
<path d="M360.88 400.38 L367.45 400.38" fill="none" stroke="#1f77b4" stroke-width="3.2" stroke-linecap="round" stroke-linejoin="round"/>
<path d="M367.96 382.77 L374.53 382.77" fill="none" stroke="#1f77b4" stroke-width="3.2" stroke-linecap="round" stroke-linejoin="round"/>
<path d="M375.04 365.16 L381.61 365.16" fill="none" stroke="#1f77b4" stroke-width="3.2" stroke-linecap="round" stroke-linejoin="round"/>
<path d="M382.12 347.55 L388.69 347.55" fill="none" stroke="#1f77b4" stroke-width="3.2" stroke-linecap="round" stroke-linejoin="round"/>
<path d="M389.2 329.94 L395.77 329.94" fill="none" stroke="#1f77b4" stroke-width="3.2" stroke-linecap="round" stroke-linejoin="round"/>
<path d="M396.28 312.33 L402.85 312.33" fill="none" stroke="#1f77b4" stroke-width="3.2" stroke-linecap="round" stroke-linejoin="round"/>
<path d="M403.36 294.72 L409.93 294.72" fill="none" stroke="#1f77b4" stroke-width="3.2" stroke-linecap="round" stroke-linejoin="round"/>
<path d="M410.44 277.11 L417.01 277.11" fill="none" stroke="#1f77b4" stroke-width="3.2" stroke-linecap="round" stroke-linejoin="round"/>
<path d="M417.52 259.5 L431.17 259.5" fill="none" stroke="#1f77b4" stroke-width="3.2" stroke-linecap="round" stroke-linejoin="round"/>
<path d="M431.68 277.11 L438.25 277.11" fill="none" stroke="#1f77b4" stroke-width="3.2" stroke-linecap="round" stroke-linejoin="round"/>
<path d="M438.76 294.72 L445.33 294.72" fill="none" stroke="#1f77b4" stroke-width="3.2" stroke-linecap="round" stroke-linejoin="round"/>
<path d="M445.84 312.33 L452.41 312.33" fill="none" stroke="#1f77b4" stroke-width="3.2" stroke-linecap="round" stroke-linejoin="round"/>
<path d="M452.92 329.94 L459.49 329.94" fill="none" stroke="#1f77b4" stroke-width="3.2" stroke-linecap="round" stroke-linejoin="round"/>
<path d="M460 347.55 L466.57 347.55" fill="none" stroke="#1f77b4" stroke-width="3.2" stroke-linecap="round" stroke-linejoin="round"/>
<path d="M467.08 365.16 L473.65 365.16" fill="none" stroke="#1f77b4" stroke-width="3.2" stroke-linecap="round" stroke-linejoin="round"/>
<path d="M474.16 382.77 L480.73 382.77" fill="none" stroke="#1f77b4" stroke-width="3.2" stroke-linecap="round" stroke-linejoin="round"/>
<path d="M481.24 400.38 L487.81 400.38" fill="none" stroke="#1f77b4" stroke-width="3.2" stroke-linecap="round" stroke-linejoin="round"/>
<path d="M488.32 417.99 L494.89 417.99" fill="none" stroke="#1f77b4" stroke-width="3.2" stroke-linecap="round" stroke-linejoin="round"/>
<path d="M495.4 435.6 L509.05 435.6" fill="none" stroke="#1f77b4" stroke-width="3.2" stroke-linecap="round" stroke-linejoin="round"/>
<path d="M509.56 417.99 L516.13 417.99" fill="none" stroke="#1f77b4" stroke-width="3.2" stroke-linecap="round" stroke-linejoin="round"/>
<path d="M516.64 400.38 L520.18 400.38" fill="none" stroke="#1f77b4" stroke-width="3.2" stroke-linecap="round" stroke-linejoin="round"/>
<path d="M150.5 349.5 L153 348.3 L163 348.3 L165 349.3 L167 348.3" fill="none" stroke="#ff7f0e" stroke-width="3.4" stroke-linecap="round" stroke-linejoin="round"/>
<path d="M221 348.3 L223 348.3" fill="none" stroke="#ff7f0e" stroke-width="3.4" stroke-linecap="round" stroke-linejoin="round"/>
<path d="M266 347.3 L520 347.3" fill="none" stroke="#ff7f0e" stroke-width="3.4" stroke-linecap="round" stroke-linejoin="round"/>
<path d="M150.5 346 L150.75 346 L151 346 L151.25 346 L151.5 346 L151.75 346 L152 346 L152.25 346 L152.5 346 L152.75 346 L153 346 L153.25 346 L153.5 346 L153.75 346 L154 346 L154.25 346 L154.5 346 L154.75 346 L155 346 L155.25 346 L155.5 346 L155.75 346 L156 346 L156.25 346 L156.5 346 L156.75 346 L157 346 L157.25 346 L157.5 346 L157.75 346 L158 346 L158.25 346 L158.5 346 L158.75 346 L159 346 L159.25 346 L159.5 346 L159.75 346 L160 346 L160.25 346 L160.5 346 L160.75 346 L161 346 L161.25 346 L161.5 346 L161.75 346 L162 346 L162.25 346 L162.5 346 L162.75 346 L163 346 L163.25 346 L163.5 346 L163.75 346 L164 346 L164.25 346 L164.5 346 L164.75 346 L165 346 L165.25 346 L165.5 346 L165.75 346 L166 346 L166.25 346.15 L166.5 346.61 L166.75 347.35 L167 348.34 L167.25 349.56 L167.5 350.94 L167.75 352.44 L168 354 L168.25 355.56 L168.5 357.06 L168.75 358.44 L169 359.66 L169.25 360.65 L169.5 361.39 L169.75 361.85 L170 362 L170.25 361.86 L170.5 361.44 L170.75 360.75 L171 359.8 L171.25 358.63 L171.5 357.26 L171.75 355.72 L172 354.05 L172.25 352.3 L172.5 350.5 L172.75 348.7 L173 346.95 L173.25 345.28 L173.5 343.74 L173.75 342.37 L174 341.2 L174.25 340.25 L174.5 339.56 L174.75 339.14 L175 339 L175.25 339.2 L175.5 339.81 L175.75 340.8 L176 342.16 L176.25 343.85 L176.5 345.84 L176.75 348.09 L177 350.55 L177.25 353.15 L177.5 355.86 L177.75 358.6 L178 361.31 L178.25 363.94 L178.5 366.43 L178.75 368.73 L179 370.77 L179.25 372.53 L179.5 373.96 L179.75 375.03 L180 375.71 L180.25 375.99 L180.5 375.87 L180.75 375.34 L181 374.42 L181.25 373.12 L181.5 371.47 L181.75 369.49 L182 367.23 L182.25 364.73 L182.5 362.04 L182.75 359.2 L183 356.28 L183.25 353.32 L183.5 350.38 L183.75 347.52 L184 344.79 L184.25 342.25 L184.5 339.94 L184.75 337.9 L185 336.18 L185.25 334.81 L185.5 333.81 L185.75 333.2 L186 333 L186.25 333.24 L186.5 333.95 L186.75 335.13 L187 336.72 L187.25 338.71 L187.5 341.04 L187.75 343.65 L188 346.47 L188.25 349.45 L188.5 352.5 L188.75 355.55 L189 358.53 L189.25 361.35 L189.5 363.96 L189.75 366.29 L190 368.28 L190.25 369.87 L190.5 371.05 L190.75 371.76 L191 372 L191.25 371.6 L191.5 370.42 L191.75 368.51 L192 365.98 L192.25 362.94 L192.5 359.56 L192.75 356 L193 352.44 L193.25 349.06 L193.5 346.02 L193.75 343.49 L194 341.58 L194.25 340.4 L194.5 340 L194.75 340.54 L195 342.1 L195.25 344.53 L195.5 347.6 L195.75 351 L196 354.4 L196.25 357.47 L196.5 359.9 L196.75 361.46 L197 362 L197.25 361.73 L197.5 360.93 L197.75 359.66 L198 358 L198.25 356.07 L198.5 354 L198.75 351.93 L199 350 L199.25 348.34 L199.5 347.07 L199.75 346.27 L200 346 L200.25 346.01 L200.5 346.04 L200.75 346.08 L201 346.15 L201.25 346.22 L201.5 346.31 L201.75 346.4 L202 346.5 L202.25 346.6 L202.5 346.69 L202.75 346.78 L203 346.85 L203.25 346.92 L203.5 346.96 L203.75 346.99 L204 347 L204.25 347.09 L204.5 347.36 L204.75 347.79 L205 348.36 L205.25 349.05 L205.5 349.82 L205.75 350.63 L206 351.46 L206.25 352.25 L206.5 352.98 L206.75 353.6 L207 354.09 L207.25 354.42 L207.5 354.59 L207.75 354.56 L208 354.31 L208.25 353.85 L208.5 353.2 L208.75 352.39 L209 351.48 L209.25 350.5 L209.5 349.51 L209.75 348.56 L210 347.71 L210.25 346.99 L210.5 346.45 L210.75 346.11 L211 346 L211.25 346 L211.5 346.01 L211.75 346.03 L212 346.05 L212.25 346.07 L212.5 346.1 L212.75 346.14 L213 346.17 L213.25 346.21 L213.5 346.25 L213.75 346.29 L214 346.33 L214.25 346.36 L214.5 346.4 L214.75 346.43 L215 346.45 L215.25 346.47 L215.5 346.49 L215.75 346.5 L216 346.5 L216.25 346.9 L216.5 348.05 L216.75 349.81 L217 352 L217.25 354.34 L217.5 356.57 L217.75 358.44 L218 359.73 L218.25 360.28 L218.5 360.01 L218.75 358.87 L219 357.02 L219.25 354.67 L219.5 352.13 L219.75 349.72 L220 347.75 L220.25 346.45 L220.5 346 L220.75 345.98 L221 345.93 L221.25 345.84 L221.5 345.72 L221.75 345.58 L222 345.42 L222.25 345.25 L222.5 345.08 L222.75 344.92 L223 344.78 L223.25 344.66 L223.5 344.57 L223.75 344.52 L224 344.5 L224.25 344.5 L224.5 344.5 L224.75 344.5 L225 344.5 L225.25 344.5 L225.5 344.5 L225.75 344.5 L226 344.5 L226.25 344.5 L226.5 344.5 L226.75 344.5 L227 344.5 L227.25 344.5 L227.5 344.5 L227.75 344.5 L228 344.5 L228.25 344.5 L228.5 344.5 L228.75 344.5 L229 344.5 L229.25 344.5 L229.5 344.5 L229.75 344.5 L230 344.5 L230.25 344.5 L230.5 344.5 L230.75 344.5 L231 344.5 L231.25 344.5 L231.5 344.5 L231.75 344.5 L232 344.5 L232.25 344.5 L232.5 344.5 L232.75 344.5 L233 344.5 L233.25 344.5 L233.5 344.5 L233.75 344.5 L234 344.5 L234.25 344.5 L234.5 344.5 L234.75 344.5 L235 344.5 L235.25 344.5 L235.5 344.5 L235.75 344.5 L236 344.5 L236.25 344.5 L236.5 344.5 L236.75 344.5 L237 344.5 L237.25 344.5 L237.5 344.5 L237.75 344.5 L238 344.5 L238.25 344.5 L238.5 344.5 L238.75 344.5 L239 344.5 L239.25 344.5 L239.5 344.5 L239.75 344.5 L240 344.5 L240.25 344.5 L240.5 344.5 L240.75 344.5 L241 344.5 L241.25 344.5 L241.5 344.5 L241.75 344.5 L242 344.5 L242.25 344.5 L242.5 344.5 L242.75 344.5 L243 344.5 L243.25 344.5 L243.5 344.5 L243.75 344.5 L244 344.5 L244.25 344.5 L244.5 344.5 L244.75 344.5 L245 344.5 L245.25 344.5 L245.5 344.5 L245.75 344.5 L246 344.5 L246.25 344.5 L246.5 344.5 L246.75 344.5 L247 344.5 L247.25 344.5 L247.5 344.5 L247.75 344.5 L248 344.5 L248.25 344.5 L248.5 344.5 L248.75 344.5 L249 344.5 L249.25 344.5 L249.5 344.5 L249.75 344.5 L250 344.5 L250.25 344.5 L250.5 344.5 L250.75 344.5 L251 344.5 L251.25 344.5 L251.5 344.5 L251.75 344.5 L252 344.5 L252.25 344.5 L252.5 344.5 L252.75 344.5 L253 344.5 L253.25 344.5 L253.5 344.5 L253.75 344.5 L254 344.5 L254.25 344.5 L254.5 344.5 L254.75 344.5 L255 344.5 L255.25 344.5 L255.5 344.5 L255.75 344.5 L256 344.5 L256.25 344.5 L256.5 344.5 L256.75 344.5 L257 344.5 L257.25 344.5 L257.5 344.5 L257.75 344.5 L258 344.5 L258.25 344.5 L258.5 344.5 L258.75 344.5 L259 344.5 L259.25 344.5 L259.5 344.5 L259.75 344.5 L260 344.5 L260.25 344.5 L260.5 344.5 L260.75 344.5 L261 344.5 L261.25 344.5 L261.5 344.5 L261.75 344.5 L262 344.5 L262.25 344.5 L262.5 344.5 L262.75 344.5 L263 344.5 L263.25 344.5 L263.5 344.5 L263.75 344.5 L264 344.5 L264.25 344.5 L264.5 344.5 L264.75 344.5 L265 344.5 L265.25 344.5 L265.5 344.5 L265.75 344.5 L266 344.5 L266.25 344.5 L266.5 344.5 L266.75 344.5 L267 344.5 L267.25 344.5 L267.5 344.5 L267.75 344.5 L268 344.5 L268.25 344.5 L268.5 344.5 L268.75 344.5 L269 344.5 L269.25 344.5 L269.5 344.5 L269.75 344.5 L270 344.5 L270.25 344.5 L270.5 344.5 L270.75 344.5 L271 344.5 L271.25 344.5 L271.5 344.5 L271.75 344.5 L272 344.5 L272.25 344.5 L272.5 344.5 L272.75 344.5 L273 344.5 L273.25 344.5 L273.5 344.5 L273.75 344.5 L274 344.5 L274.25 344.5 L274.5 344.5 L274.75 344.5 L275 344.5 L275.25 344.5 L275.5 344.5 L275.75 344.5 L276 344.5 L276.25 344.5 L276.5 344.5 L276.75 344.5 L277 344.5 L277.25 344.5 L277.5 344.5 L277.75 344.5 L278 344.5 L278.25 344.5 L278.5 344.5 L278.75 344.5 L279 344.5 L279.25 344.5 L279.5 344.5 L279.75 344.5 L280 344.5 L280.25 344.5 L280.5 344.5 L280.75 344.5 L281 344.5 L281.25 344.5 L281.5 344.5 L281.75 344.5 L282 344.5 L282.25 344.5 L282.5 344.5 L282.75 344.5 L283 344.5 L283.25 344.5 L283.5 344.5 L283.75 344.5 L284 344.5 L284.25 344.5 L284.5 344.5 L284.75 344.5 L285 344.5 L285.25 344.5 L285.5 344.5 L285.75 344.5 L286 344.5 L286.25 344.5 L286.5 344.5 L286.75 344.5 L287 344.5 L287.25 344.5 L287.5 344.5 L287.75 344.5 L288 344.5 L288.25 344.5 L288.5 344.5 L288.75 344.5 L289 344.5 L289.25 344.5 L289.5 344.5 L289.75 344.5 L290 344.5 L290.25 344.5 L290.5 344.5 L290.75 344.5 L291 344.5 L291.25 344.5 L291.5 344.5 L291.75 344.5 L292 344.5 L292.25 344.5 L292.5 344.5 L292.75 344.5 L293 344.5 L293.25 344.5 L293.5 344.5 L293.75 344.5 L294 344.5 L294.25 344.5 L294.5 344.5 L294.75 344.5 L295 344.5 L295.25 344.5 L295.5 344.5 L295.75 344.5 L296 344.5 L296.25 344.5 L296.5 344.5 L296.75 344.5 L297 344.5 L297.25 344.5 L297.5 344.5 L297.75 344.5 L298 344.5 L298.25 344.5 L298.5 344.5 L298.75 344.5 L299 344.5 L299.25 344.5 L299.5 344.5 L299.75 344.5 L300 344.5 L300.25 344.5 L300.5 344.5 L300.75 344.5 L301 344.5 L301.25 344.5 L301.5 344.5 L301.75 344.5 L302 344.5 L302.25 344.5 L302.5 344.5 L302.75 344.5 L303 344.5 L303.25 344.5 L303.5 344.5 L303.75 344.5 L304 344.5 L304.25 344.5 L304.5 344.5 L304.75 344.5 L305 344.5 L305.25 344.5 L305.5 344.5 L305.75 344.5 L306 344.5 L306.25 344.5 L306.5 344.5 L306.75 344.5 L307 344.5 L307.25 344.5 L307.5 344.5 L307.75 344.5 L308 344.5 L308.25 344.5 L308.5 344.5 L308.75 344.5 L309 344.5 L309.25 344.5 L309.5 344.5 L309.75 344.5 L310 344.5 L310.25 344.5 L310.5 344.5 L310.75 344.5 L311 344.5 L311.25 344.5 L311.5 344.5 L311.75 344.5 L312 344.5 L312.25 344.5 L312.5 344.5 L312.75 344.5 L313 344.5 L313.25 344.5 L313.5 344.5 L313.75 344.5 L314 344.5 L314.25 344.5 L314.5 344.5 L314.75 344.5 L315 344.5 L315.25 344.5 L315.5 344.5 L315.75 344.5 L316 344.5 L316.25 344.5 L316.5 344.5 L316.75 344.5 L317 344.5 L317.25 344.5 L317.5 344.5 L317.75 344.5 L318 344.5 L318.25 344.5 L318.5 344.5 L318.75 344.5 L319 344.5 L319.25 344.5 L319.5 344.5 L319.75 344.5 L320 344.5 L320.25 344.5 L320.5 344.5 L320.75 344.5 L321 344.5 L321.25 344.5 L321.5 344.5 L321.75 344.5 L322 344.5 L322.25 344.5 L322.5 344.5 L322.75 344.5 L323 344.5 L323.25 344.5 L323.5 344.5 L323.75 344.5 L324 344.5 L324.25 344.5 L324.5 344.5 L324.75 344.5 L325 344.5 L325.25 344.5 L325.5 344.5 L325.75 344.5 L326 344.5 L326.25 344.5 L326.5 344.5 L326.75 344.5 L327 344.5 L327.25 344.5 L327.5 344.5 L327.75 344.5 L328 344.5 L328.25 344.5 L328.5 344.5 L328.75 344.5 L329 344.5 L329.25 344.5 L329.5 344.5 L329.75 344.5 L330 344.5 L330.25 344.5 L330.5 344.5 L330.75 344.5 L331 344.5 L331.25 344.5 L331.5 344.5 L331.75 344.5 L332 344.5 L332.25 344.5 L332.5 344.5 L332.75 344.5 L333 344.5 L333.25 344.5 L333.5 344.5 L333.75 344.5 L334 344.5 L334.25 344.5 L334.5 344.5 L334.75 344.5 L335 344.5 L335.25 344.5 L335.5 344.5 L335.75 344.5 L336 344.5 L336.25 344.5 L336.5 344.5 L336.75 344.5 L337 344.5 L337.25 344.5 L337.5 344.5 L337.75 344.5 L338 344.5 L338.25 344.5 L338.5 344.5 L338.75 344.5 L339 344.5 L339.25 344.5 L339.5 344.5 L339.75 344.5 L340 344.5 L340.25 344.5 L340.5 344.5 L340.75 344.5 L341 344.5 L341.25 344.5 L341.5 344.5 L341.75 344.5 L342 344.5 L342.25 344.5 L342.5 344.5 L342.75 344.5 L343 344.5 L343.25 344.5 L343.5 344.5 L343.75 344.5 L344 344.5 L344.25 344.5 L344.5 344.5 L344.75 344.5 L345 344.5 L345.25 344.5 L345.5 344.5 L345.75 344.5 L346 344.5 L346.25 344.5 L346.5 344.5 L346.75 344.5 L347 344.5 L347.25 344.5 L347.5 344.5 L347.75 344.5 L348 344.5 L348.25 344.5 L348.5 344.5 L348.75 344.5 L349 344.5 L349.25 344.5 L349.5 344.5 L349.75 344.5 L350 344.5 L350.25 344.5 L350.5 344.5 L350.75 344.5 L351 344.5 L351.25 344.5 L351.5 344.5 L351.75 344.5 L352 344.5 L352.25 344.5 L352.5 344.5 L352.75 344.5 L353 344.5 L353.25 344.5 L353.5 344.5 L353.75 344.5 L354 344.5 L354.25 344.5 L354.5 344.5 L354.75 344.5 L355 344.5 L355.25 344.5 L355.5 344.5 L355.75 344.5 L356 344.5 L356.25 344.5 L356.5 344.5 L356.75 344.5 L357 344.5 L357.25 344.5 L357.5 344.5 L357.75 344.5 L358 344.5 L358.25 344.5 L358.5 344.5 L358.75 344.5 L359 344.5 L359.25 344.5 L359.5 344.5 L359.75 344.5 L360 344.5 L360.25 344.5 L360.5 344.5 L360.75 344.5 L361 344.5 L361.25 344.5 L361.5 344.5 L361.75 344.5 L362 344.5 L362.25 344.5 L362.5 344.5 L362.75 344.5 L363 344.5 L363.25 344.5 L363.5 344.5 L363.75 344.5 L364 344.5 L364.25 344.5 L364.5 344.5 L364.75 344.5 L365 344.5 L365.25 344.5 L365.5 344.5 L365.75 344.5 L366 344.5 L366.25 344.5 L366.5 344.5 L366.75 344.5 L367 344.5 L367.25 344.5 L367.5 344.5 L367.75 344.5 L368 344.5 L368.25 344.5 L368.5 344.5 L368.75 344.5 L369 344.5 L369.25 344.5 L369.5 344.5 L369.75 344.5 L370 344.5 L370.25 344.5 L370.5 344.5 L370.75 344.5 L371 344.5 L371.25 344.5 L371.5 344.5 L371.75 344.5 L372 344.5 L372.25 344.5 L372.5 344.5 L372.75 344.5 L373 344.5 L373.25 344.5 L373.5 344.5 L373.75 344.5 L374 344.5 L374.25 344.5 L374.5 344.5 L374.75 344.5 L375 344.5 L375.25 344.5 L375.5 344.5 L375.75 344.5 L376 344.5 L376.25 344.5 L376.5 344.5 L376.75 344.5 L377 344.5 L377.25 344.5 L377.5 344.5 L377.75 344.5 L378 344.5 L378.25 344.5 L378.5 344.5 L378.75 344.5 L379 344.5 L379.25 344.5 L379.5 344.5 L379.75 344.5 L380 344.5 L380.25 344.5 L380.5 344.5 L380.75 344.5 L381 344.5 L381.25 344.5 L381.5 344.5 L381.75 344.5 L382 344.5 L382.25 344.5 L382.5 344.5 L382.75 344.5 L383 344.5 L383.25 344.5 L383.5 344.5 L383.75 344.5 L384 344.5 L384.25 344.5 L384.5 344.5 L384.75 344.5 L385 344.5 L385.25 344.5 L385.5 344.5 L385.75 344.5 L386 344.5 L386.25 344.5 L386.5 344.5 L386.75 344.5 L387 344.5 L387.25 344.5 L387.5 344.5 L387.75 344.5 L388 344.5 L388.25 344.5 L388.5 344.5 L388.75 344.5 L389 344.5 L389.25 344.5 L389.5 344.5 L389.75 344.5 L390 344.5 L390.25 344.5 L390.5 344.5 L390.75 344.5 L391 344.5 L391.25 344.5 L391.5 344.5 L391.75 344.5 L392 344.5 L392.25 344.5 L392.5 344.5 L392.75 344.5 L393 344.5 L393.25 344.5 L393.5 344.5 L393.75 344.5 L394 344.5 L394.25 344.5 L394.5 344.5 L394.75 344.5 L395 344.5 L395.25 344.5 L395.5 344.5 L395.75 344.5 L396 344.5 L396.25 344.5 L396.5 344.5 L396.75 344.5 L397 344.5 L397.25 344.5 L397.5 344.5 L397.75 344.5 L398 344.5 L398.25 344.5 L398.5 344.5 L398.75 344.5 L399 344.5 L399.25 344.5 L399.5 344.5 L399.75 344.5 L400 344.5 L400.25 344.5 L400.5 344.5 L400.75 344.5 L401 344.5 L401.25 344.5 L401.5 344.5 L401.75 344.5 L402 344.5 L402.25 344.5 L402.5 344.5 L402.75 344.5 L403 344.5 L403.25 344.5 L403.5 344.5 L403.75 344.5 L404 344.5 L404.25 344.5 L404.5 344.5 L404.75 344.5 L405 344.5 L405.25 344.5 L405.5 344.5 L405.75 344.5 L406 344.5 L406.25 344.5 L406.5 344.5 L406.75 344.5 L407 344.5 L407.25 344.5 L407.5 344.5 L407.75 344.5 L408 344.5 L408.25 344.5 L408.5 344.5 L408.75 344.5 L409 344.5 L409.25 344.5 L409.5 344.5 L409.75 344.5 L410 344.5 L410.25 344.5 L410.5 344.5 L410.75 344.5 L411 344.5 L411.25 344.5 L411.5 344.5 L411.75 344.5 L412 344.5 L412.25 344.5 L412.5 344.5 L412.75 344.5 L413 344.5 L413.25 344.5 L413.5 344.5 L413.75 344.5 L414 344.5 L414.25 344.5 L414.5 344.5 L414.75 344.5 L415 344.5 L415.25 344.5 L415.5 344.5 L415.75 344.5 L416 344.5 L416.25 344.5 L416.5 344.5 L416.75 344.5 L417 344.5 L417.25 344.5 L417.5 344.5 L417.75 344.5 L418 344.5 L418.25 344.5 L418.5 344.5 L418.75 344.5 L419 344.5 L419.25 344.5 L419.5 344.5 L419.75 344.5 L420 344.5 L420.25 344.5 L420.5 344.5 L420.75 344.5 L421 344.5 L421.25 344.5 L421.5 344.5 L421.75 344.5 L422 344.5 L422.25 344.5 L422.5 344.5 L422.75 344.5 L423 344.5 L423.25 344.5 L423.5 344.5 L423.75 344.5 L424 344.5 L424.25 344.5 L424.5 344.5 L424.75 344.5 L425 344.5 L425.25 344.5 L425.5 344.5 L425.75 344.5 L426 344.5 L426.25 344.5 L426.5 344.5 L426.75 344.5 L427 344.5 L427.25 344.5 L427.5 344.5 L427.75 344.5 L428 344.5 L428.25 344.5 L428.5 344.5 L428.75 344.5 L429 344.5 L429.25 344.5 L429.5 344.5 L429.75 344.5 L430 344.5 L430.25 344.5 L430.5 344.5 L430.75 344.5 L431 344.5 L431.25 344.5 L431.5 344.5 L431.75 344.5 L432 344.5 L432.25 344.5 L432.5 344.5 L432.75 344.5 L433 344.5 L433.25 344.5 L433.5 344.5 L433.75 344.5 L434 344.5 L434.25 344.5 L434.5 344.5 L434.75 344.5 L435 344.5 L435.25 344.5 L435.5 344.5 L435.75 344.5 L436 344.5 L436.25 344.5 L436.5 344.5 L436.75 344.5 L437 344.5 L437.25 344.5 L437.5 344.5 L437.75 344.5 L438 344.5 L438.25 344.5 L438.5 344.5 L438.75 344.5 L439 344.5 L439.25 344.5 L439.5 344.5 L439.75 344.5 L440 344.5 L440.25 344.5 L440.5 344.5 L440.75 344.5 L441 344.5 L441.25 344.5 L441.5 344.5 L441.75 344.5 L442 344.5 L442.25 344.5 L442.5 344.5 L442.75 344.5 L443 344.5 L443.25 344.5 L443.5 344.5 L443.75 344.5 L444 344.5 L444.25 344.5 L444.5 344.5 L444.75 344.5 L445 344.5 L445.25 344.5 L445.5 344.5 L445.75 344.5 L446 344.5 L446.25 344.5 L446.5 344.5 L446.75 344.5 L447 344.5 L447.25 344.5 L447.5 344.5 L447.75 344.5 L448 344.5 L448.25 344.5 L448.5 344.5 L448.75 344.5 L449 344.5 L449.25 344.5 L449.5 344.5 L449.75 344.5 L450 344.5 L450.25 344.5 L450.5 344.5 L450.75 344.5 L451 344.5 L451.25 344.5 L451.5 344.5 L451.75 344.5 L452 344.5 L452.25 344.5 L452.5 344.5 L452.75 344.5 L453 344.5 L453.25 344.5 L453.5 344.5 L453.75 344.5 L454 344.5 L454.25 344.5 L454.5 344.5 L454.75 344.5 L455 344.5 L455.25 344.5 L455.5 344.5 L455.75 344.5 L456 344.5 L456.25 344.5 L456.5 344.5 L456.75 344.5 L457 344.5 L457.25 344.5 L457.5 344.5 L457.75 344.5 L458 344.5 L458.25 344.5 L458.5 344.5 L458.75 344.5 L459 344.5 L459.25 344.5 L459.5 344.5 L459.75 344.5 L460 344.5 L460.25 344.5 L460.5 344.5 L460.75 344.5 L461 344.5 L461.25 344.5 L461.5 344.5 L461.75 344.5 L462 344.5 L462.25 344.5 L462.5 344.5 L462.75 344.5 L463 344.5 L463.25 344.5 L463.5 344.5 L463.75 344.5 L464 344.5 L464.25 344.5 L464.5 344.5 L464.75 344.5 L465 344.5 L465.25 344.5 L465.5 344.5 L465.75 344.5 L466 344.5 L466.25 344.5 L466.5 344.5 L466.75 344.5 L467 344.5 L467.25 344.5 L467.5 344.5 L467.75 344.5 L468 344.5 L468.25 344.5 L468.5 344.5 L468.75 344.5 L469 344.5 L469.25 344.5 L469.5 344.5 L469.75 344.5 L470 344.5 L470.25 344.5 L470.5 344.5 L470.75 344.5 L471 344.5 L471.25 344.5 L471.5 344.5 L471.75 344.5 L472 344.5 L472.25 344.5 L472.5 344.5 L472.75 344.5 L473 344.5 L473.25 344.5 L473.5 344.5 L473.75 344.5 L474 344.5 L474.25 344.5 L474.5 344.5 L474.75 344.5 L475 344.5 L475.25 344.5 L475.5 344.5 L475.75 344.5 L476 344.5 L476.25 344.5 L476.5 344.5 L476.75 344.5 L477 344.5 L477.25 344.5 L477.5 344.5 L477.75 344.5 L478 344.5 L478.25 344.5 L478.5 344.5 L478.75 344.5 L479 344.5 L479.25 344.5 L479.5 344.5 L479.75 344.5 L480 344.5 L480.25 344.5 L480.5 344.5 L480.75 344.5 L481 344.5 L481.25 344.5 L481.5 344.5 L481.75 344.5 L482 344.5 L482.25 344.5 L482.5 344.5 L482.75 344.5 L483 344.5 L483.25 344.5 L483.5 344.5 L483.75 344.5 L484 344.5 L484.25 344.5 L484.5 344.5 L484.75 344.5 L485 344.5 L485.25 344.5 L485.5 344.5 L485.75 344.5 L486 344.5 L486.25 344.5 L486.5 344.5 L486.75 344.5 L487 344.5 L487.25 344.5 L487.5 344.5 L487.75 344.5 L488 344.5 L488.25 344.5 L488.5 344.5 L488.75 344.5 L489 344.5 L489.25 344.5 L489.5 344.5 L489.75 344.5 L490 344.5 L490.25 344.5 L490.5 344.5 L490.75 344.5 L491 344.5 L491.25 344.5 L491.5 344.5 L491.75 344.5 L492 344.5 L492.25 344.5 L492.5 344.5 L492.75 344.5 L493 344.5 L493.25 344.5 L493.5 344.5 L493.75 344.5 L494 344.5 L494.25 344.5 L494.5 344.5 L494.75 344.5 L495 344.5 L495.25 344.5 L495.5 344.5 L495.75 344.5 L496 344.5 L496.25 344.5 L496.5 344.5 L496.75 344.5 L497 344.5 L497.25 344.5 L497.5 344.5 L497.75 344.5 L498 344.5 L498.25 344.5 L498.5 344.5 L498.75 344.5 L499 344.5 L499.25 344.5 L499.5 344.5 L499.75 344.5 L500 344.5 L500.25 344.5 L500.5 344.5 L500.75 344.5 L501 344.5 L501.25 344.5 L501.5 344.5 L501.75 344.5 L502 344.5 L502.25 344.5 L502.5 344.5 L502.75 344.5 L503 344.5 L503.25 344.5 L503.5 344.5 L503.75 344.5 L504 344.5 L504.25 344.5 L504.5 344.5 L504.75 344.5 L505 344.5 L505.25 344.5 L505.5 344.5 L505.75 344.5 L506 344.5 L506.25 344.5 L506.5 344.5 L506.75 344.5 L507 344.5 L507.25 344.5 L507.5 344.5 L507.75 344.5 L508 344.5 L508.25 344.5 L508.5 344.5 L508.75 344.5 L509 344.5 L509.25 344.5 L509.5 344.5 L509.75 344.5 L510 344.5 L510.25 344.5 L510.5 344.5 L510.75 344.5 L511 344.5 L511.25 344.5 L511.5 344.5 L511.75 344.5 L512 344.5 L512.25 344.5 L512.5 344.5 L512.75 344.5 L513 344.5 L513.25 344.5 L513.5 344.5 L513.75 344.5 L514 344.5 L514.25 344.5 L514.5 344.5 L514.75 344.5 L515 344.5 L515.25 344.5 L515.5 344.5 L515.75 344.5 L516 344.5 L516.25 344.5 L516.5 344.5 L516.75 344.5 L517 344.5 L517.25 344.5 L517.5 344.5 L517.75 344.5 L518 344.5 L518.25 344.5 L518.5 344.5 L518.75 344.5 L519 344.5 L519.25 344.5 L519.5 344.5 L519.75 344.5 L520 344.5" fill="none" stroke="#2ca02c" stroke-width="3.4" stroke-linecap="round" stroke-linejoin="round"/>
<path d="M403 345 L403.25 345.42 L403.5 346.61 L403.75 348.4 L404 350.5 L404.25 352.6 L404.5 354.39 L404.75 355.58 L405 356 L405.25 355.91 L405.5 355.63 L405.75 355.16 L406 354.52 L406.25 353.72 L406.5 352.76 L406.75 351.66 L407 350.44 L407.25 349.12 L407.5 347.71 L407.75 346.24 L408 344.73 L408.25 343.19 L408.5 341.67 L408.75 340.17 L409 338.72 L409.25 337.34 L409.5 336.05 L409.75 334.88 L410 333.84 L410.25 332.94 L410.5 332.2 L410.75 331.63 L411 331.24 L411.25 331.03 L411.5 331.03 L411.75 331.41 L412 332.21 L412.25 333.4 L412.5 334.97 L412.75 336.88 L413 339.09 L413.25 341.58 L413.5 344.27 L413.75 347.13 L414 350.09 L414.25 353.1 L414.5 356.1 L414.75 359.03 L415 361.83 L415.25 364.44 L415.5 366.83 L415.75 368.93 L416 370.7 L416.25 372.12 L416.5 373.16 L416.75 373.79 L417 374 L417.25 373.84 L417.5 373.36 L417.75 372.56 L418 371.46 L418.25 370.08 L418.5 368.43 L418.75 366.54 L419 364.44 L419.25 362.17 L419.5 359.74 L419.75 357.21 L420 354.61 L420.25 351.97 L420.5 349.35 L420.75 346.77 L421 344.27 L421.25 341.9 L421.5 339.69 L421.75 337.67 L422 335.88 L422.25 334.34 L422.5 333.06 L422.75 332.09 L423 331.41 L423.25 331.06 L423.5 331.04 L423.75 331.52 L424 332.51 L424.25 333.99 L424.5 335.93 L424.75 338.28 L425 340.98 L425.25 343.96 L425.5 347.15 L425.75 350.48 L426 353.85 L426.25 357.19 L426.5 360.41 L426.75 363.44 L427 366.2 L427.25 368.63 L427.5 370.65 L427.75 372.23 L428 373.32 L428.25 373.9 L428.5 373.97 L428.75 373.67 L429 373.04 L429.25 372.1 L429.5 370.85 L429.75 369.31 L430 367.51 L430.25 365.48 L430.5 363.25 L430.75 360.85 L431 358.32 L431.25 355.7 L431.5 353.04 L431.75 350.36 L432 347.72 L432.25 345.15 L432.5 342.69 L432.75 340.39 L433 338.27 L433.25 336.38 L433.5 334.74 L433.75 333.37 L434 332.3 L434.25 331.54 L434.5 331.11 L434.75 331.01 L435 331.25 L435.25 331.84 L435.5 332.74 L435.75 333.94 L436 335.39 L436.25 337.04 L436.5 338.84 L436.75 340.73 L437 342.65 L437.25 344.53 L437.5 346.3 L437.75 347.92 L438 349.32 L438.25 350.46 L438.5 351.31 L438.75 351.83 L439 352 L439.25 351.73 L439.5 350.97 L439.75 349.84 L440 348.5 L440.25 347.16 L440.5 346.03 L440.75 345.27 L441 345" fill="none" stroke="#2ca02c" stroke-width="3.4" stroke-linecap="round" stroke-linejoin="round"/>
<path d="M150.5 346.8 L150.75 346.8 L151 346.8 L151.25 346.8 L151.5 346.8 L151.75 346.8 L152 346.8 L152.25 346.8 L152.5 346.8 L152.75 346.8 L153 346.8 L153.25 346.8 L153.5 346.8 L153.75 346.8 L154 346.8 L154.25 346.8 L154.5 346.8 L154.75 346.8 L155 346.8 L155.25 346.8 L155.5 346.8 L155.75 346.8 L156 346.8 L156.25 346.8 L156.5 346.8 L156.75 346.8 L157 346.8 L157.25 346.8 L157.5 346.8 L157.75 346.8 L158 346.8 L158.25 346.8 L158.5 346.8 L158.75 346.8 L159 346.8 L159.25 346.8 L159.5 346.8 L159.75 346.8 L160 346.8 L160.25 346.8 L160.5 346.8 L160.75 346.8 L161 346.8 L161.25 346.8 L161.5 346.8 L161.75 346.8 L162 346.8 L162.25 346.8 L162.5 346.8 L162.75 346.8 L163 346.8 L163.25 346.8 L163.5 346.8 L163.75 346.8 L164 346.8 L164.25 346.8 L164.5 346.8 L164.75 346.8 L165 346.8 L165.25 346.8 L165.5 346.8 L165.75 346.8 L166 346.8 L166.25 346.76 L166.5 346.65 L166.75 346.47 L167 346.21 L167.25 345.89 L167.5 345.51 L167.75 345.08 L168 344.6 L168.25 344.08 L168.5 343.54 L168.75 342.97 L169 342.4 L169.25 341.83 L169.5 341.26 L169.75 340.72 L170 340.2 L170.25 339.72 L170.5 339.29 L170.75 338.91 L171 338.59 L171.25 338.33 L171.5 338.15 L171.75 338.04 L172 338 L172.25 338.33 L172.5 339.29 L172.75 340.87 L173 342.98 L173.25 345.56 L173.5 348.49 L173.75 351.68 L174 355 L174.25 358.32 L174.5 361.51 L174.75 364.44 L175 367.02 L175.25 369.13 L175.5 370.71 L175.75 371.67 L176 372 L176.25 371.85 L176.5 371.42 L176.75 370.7 L177 369.71 L177.25 368.46 L177.5 366.97 L177.75 365.26 L178 363.36 L178.25 361.29 L178.5 359.09 L178.75 356.79 L179 354.41 L179.25 352 L179.5 349.59 L179.75 347.21 L180 344.91 L180.25 342.71 L180.5 340.64 L180.75 338.74 L181 337.03 L181.25 335.54 L181.5 334.29 L181.75 333.3 L182 332.58 L182.25 332.15 L182.5 332 L182.75 332.22 L183 332.89 L183.25 333.99 L183.5 335.49 L183.75 337.37 L184 339.59 L184.25 342.11 L184.5 344.86 L184.75 347.8 L185 350.87 L185.25 354 L185.5 357.13 L185.75 360.2 L186 363.14 L186.25 365.89 L186.5 368.41 L186.75 370.63 L187 372.51 L187.25 374.01 L187.5 375.11 L187.75 375.78 L188 376 L188.25 375.7 L188.5 374.81 L188.75 373.38 L189 371.48 L189.25 369.21 L189.5 366.67 L189.75 364 L190 361.33 L190.25 358.79 L190.5 356.52 L190.75 354.62 L191 353.19 L191.25 352.3 L191.5 352 L191.75 352.94 L192 355.5 L192.25 359 L192.5 362.5 L192.75 365.06 L193 366 L193.25 365.6 L193.5 364.42 L193.75 362.51 L194 359.98 L194.25 356.94 L194.5 353.56 L194.75 350 L195 346.44 L195.25 343.06 L195.5 340.02 L195.75 337.49 L196 335.58 L196.25 334.4 L196.5 334 L196.75 334.18 L197 334.69 L197.25 335.53 L197.5 336.64 L197.75 337.96 L198 339.44 L198.25 341 L198.5 342.56 L198.75 344.04 L199 345.36 L199.25 346.47 L199.5 347.31 L199.75 347.82 L200 348 L200.25 348.08 L200.5 348.31 L200.75 348.67 L201 349.13 L201.25 349.64 L201.5 350.17 L201.75 350.66 L202 351.06 L202.25 351.35 L202.5 351.49 L202.75 351.46 L203 351.2 L203.25 350.73 L203.5 350.11 L203.75 349.4 L204 348.67 L204.25 348 L204.5 347.46 L204.75 347.12 L205 347 L205.25 347.07 L205.5 347.27 L205.75 347.57 L206 347.97 L206.25 348.41 L206.5 348.86 L206.75 349.28 L207 349.62 L207.25 349.87 L207.5 349.99 L207.75 349.97 L208 349.77 L208.25 349.4 L208.5 348.92 L208.75 348.36 L209 347.8 L209.25 347.28 L209.5 346.86 L209.75 346.59 L210 346.5 L210.25 346.56 L210.5 346.73 L210.75 347.01 L211 347.38 L211.25 347.8 L211.5 348.25 L211.75 348.7 L212 349.12 L212.25 349.49 L212.5 349.77 L212.75 349.94 L213 350 L213.25 349.95 L213.5 349.8 L213.75 349.56 L214 349.25 L214.25 348.89 L214.5 348.5 L214.75 348.11 L215 347.75 L215.25 347.44 L215.5 347.2 L215.75 347.05 L216 347 L216.25 347 L216.5 346.99 L216.75 346.98 L217 346.97 L217.25 346.95 L217.5 346.93 L217.75 346.91 L218 346.88 L218.25 346.85 L218.5 346.82 L218.75 346.79 L219 346.75 L219.25 346.72 L219.5 346.68 L219.75 346.64 L220 346.6 L220.25 346.56 L220.5 346.52 L220.75 346.48 L221 346.45 L221.25 346.41 L221.5 346.38 L221.75 346.35 L222 346.32 L222.25 346.29 L222.5 346.27 L222.75 346.25 L223 346.23 L223.25 346.22 L223.5 346.21 L223.75 346.2 L224 346.2 L224.25 346.2 L224.5 346.2 L224.75 346.2 L225 346.2 L225.25 346.2 L225.5 346.2 L225.75 346.2 L226 346.2 L226.25 346.2 L226.5 346.2 L226.75 346.2 L227 346.2 L227.25 346.2 L227.5 346.2 L227.75 346.2 L228 346.2 L228.25 346.2 L228.5 346.2 L228.75 346.2 L229 346.2 L229.25 346.2 L229.5 346.2 L229.75 346.2 L230 346.2 L230.25 346.2 L230.5 346.2 L230.75 346.2 L231 346.2 L231.25 346.2 L231.5 346.2 L231.75 346.2 L232 346.2 L232.25 346.2 L232.5 346.2 L232.75 346.2 L233 346.2 L233.25 346.2 L233.5 346.2 L233.75 346.2 L234 346.2 L234.25 346.2 L234.5 346.2 L234.75 346.2 L235 346.2 L235.25 346.2 L235.5 346.2 L235.75 346.2 L236 346.2 L236.25 346.2 L236.5 346.2 L236.75 346.2 L237 346.2 L237.25 346.2 L237.5 346.2 L237.75 346.2 L238 346.2 L238.25 346.2 L238.5 346.2 L238.75 346.2 L239 346.2 L239.25 346.2 L239.5 346.2 L239.75 346.2 L240 346.2 L240.25 346.2 L240.5 346.2 L240.75 346.2 L241 346.2 L241.25 346.2 L241.5 346.2 L241.75 346.2 L242 346.2 L242.25 346.2 L242.5 346.2 L242.75 346.2 L243 346.2 L243.25 346.2 L243.5 346.2 L243.75 346.2 L244 346.2 L244.25 346.2 L244.5 346.2 L244.75 346.2 L245 346.2 L245.25 346.2 L245.5 346.2 L245.75 346.2 L246 346.2 L246.25 346.2 L246.5 346.2 L246.75 346.2 L247 346.2 L247.25 346.2 L247.5 346.2 L247.75 346.2 L248 346.2 L248.25 346.2 L248.5 346.2 L248.75 346.2 L249 346.2 L249.25 346.2 L249.5 346.2 L249.75 346.2 L250 346.2 L250.25 346.2 L250.5 346.2 L250.75 346.2 L251 346.2 L251.25 346.2 L251.5 346.2 L251.75 346.2 L252 346.2 L252.25 346.2 L252.5 346.2 L252.75 346.2 L253 346.2 L253.25 346.2 L253.5 346.2 L253.75 346.2 L254 346.2 L254.25 346.2 L254.5 346.2 L254.75 346.2 L255 346.2 L255.25 346.2 L255.5 346.2 L255.75 346.2 L256 346.2 L256.25 346.2 L256.5 346.2 L256.75 346.2 L257 346.2 L257.25 346.2 L257.5 346.2 L257.75 346.2 L258 346.2 L258.25 346.2 L258.5 346.2 L258.75 346.2 L259 346.2 L259.25 346.2 L259.5 346.2 L259.75 346.2 L260 346.2 L260.25 346.2 L260.5 346.2 L260.75 346.2 L261 346.2 L261.25 346.2 L261.5 346.2 L261.75 346.2 L262 346.2 L262.25 346.2 L262.5 346.2 L262.75 346.2 L263 346.2 L263.25 346.2 L263.5 346.2 L263.75 346.2 L264 346.2 L264.25 346.2 L264.5 346.2 L264.75 346.2 L265 346.2 L265.25 346.2 L265.5 346.2 L265.75 346.2 L266 346.2 L266.25 346.2 L266.5 346.2 L266.75 346.2 L267 346.2 L267.25 346.2 L267.5 346.2 L267.75 346.2 L268 346.2 L268.25 346.2 L268.5 346.2 L268.75 346.2 L269 346.2 L269.25 346.2 L269.5 346.2 L269.75 346.2 L270 346.2 L270.25 346.2 L270.5 346.2 L270.75 346.2 L271 346.2 L271.25 346.2 L271.5 346.2 L271.75 346.2 L272 346.2 L272.25 346.2 L272.5 346.2 L272.75 346.2 L273 346.2 L273.25 346.2 L273.5 346.2 L273.75 346.2 L274 346.2 L274.25 346.2 L274.5 346.2 L274.75 346.2 L275 346.2 L275.25 346.2 L275.5 346.2 L275.75 346.2 L276 346.2 L276.25 346.2 L276.5 346.2 L276.75 346.2 L277 346.2 L277.25 346.2 L277.5 346.2 L277.75 346.2 L278 346.2 L278.25 346.2 L278.5 346.2 L278.75 346.2 L279 346.2 L279.25 346.2 L279.5 346.2 L279.75 346.2 L280 346.2 L280.25 346.2 L280.5 346.2 L280.75 346.2 L281 346.2 L281.25 346.2 L281.5 346.2 L281.75 346.2 L282 346.2 L282.25 346.2 L282.5 346.2 L282.75 346.2 L283 346.2 L283.25 346.2 L283.5 346.2 L283.75 346.2 L284 346.2 L284.25 346.2 L284.5 346.2 L284.75 346.2 L285 346.2 L285.25 346.2 L285.5 346.2 L285.75 346.2 L286 346.2 L286.25 346.2 L286.5 346.2 L286.75 346.2 L287 346.2 L287.25 346.2 L287.5 346.2 L287.75 346.2 L288 346.2 L288.25 346.2 L288.5 346.2 L288.75 346.2 L289 346.2 L289.25 346.2 L289.5 346.2 L289.75 346.2 L290 346.2 L290.25 346.2 L290.5 346.2 L290.75 346.2 L291 346.2 L291.25 346.2 L291.5 346.2 L291.75 346.2 L292 346.2 L292.25 346.2 L292.5 346.2 L292.75 346.2 L293 346.2 L293.25 346.2 L293.5 346.2 L293.75 346.2 L294 346.2 L294.25 346.2 L294.5 346.2 L294.75 346.2 L295 346.2 L295.25 346.2 L295.5 346.2 L295.75 346.2 L296 346.2 L296.25 346.2 L296.5 346.2 L296.75 346.2 L297 346.2 L297.25 346.2 L297.5 346.2 L297.75 346.2 L298 346.2 L298.25 346.2 L298.5 346.2 L298.75 346.2 L299 346.2 L299.25 346.2 L299.5 346.2 L299.75 346.2 L300 346.2 L300.25 346.2 L300.5 346.2 L300.75 346.2 L301 346.2 L301.25 346.2 L301.5 346.2 L301.75 346.2 L302 346.2 L302.25 346.2 L302.5 346.2 L302.75 346.2 L303 346.2 L303.25 346.2 L303.5 346.2 L303.75 346.2 L304 346.2 L304.25 346.2 L304.5 346.2 L304.75 346.2 L305 346.2 L305.25 346.2 L305.5 346.2 L305.75 346.2 L306 346.2 L306.25 346.2 L306.5 346.2 L306.75 346.2 L307 346.2 L307.25 346.2 L307.5 346.2 L307.75 346.2 L308 346.2 L308.25 346.2 L308.5 346.2 L308.75 346.2 L309 346.2 L309.25 346.2 L309.5 346.2 L309.75 346.2 L310 346.2 L310.25 346.2 L310.5 346.2 L310.75 346.2 L311 346.2 L311.25 346.2 L311.5 346.2 L311.75 346.2 L312 346.2 L312.25 346.2 L312.5 346.2 L312.75 346.2 L313 346.2 L313.25 346.2 L313.5 346.2 L313.75 346.2 L314 346.2 L314.25 346.2 L314.5 346.2 L314.75 346.2 L315 346.2 L315.25 346.2 L315.5 346.2 L315.75 346.2 L316 346.2 L316.25 346.2 L316.5 346.2 L316.75 346.2 L317 346.2 L317.25 346.2 L317.5 346.2 L317.75 346.2 L318 346.2 L318.25 346.2 L318.5 346.2 L318.75 346.2 L319 346.2 L319.25 346.2 L319.5 346.2 L319.75 346.2 L320 346.2 L320.25 346.2 L320.5 346.2 L320.75 346.2 L321 346.2 L321.25 346.2 L321.5 346.2 L321.75 346.2 L322 346.2 L322.25 346.2 L322.5 346.2 L322.75 346.2 L323 346.2 L323.25 346.2 L323.5 346.2 L323.75 346.2 L324 346.2 L324.25 346.2 L324.5 346.2 L324.75 346.2 L325 346.2 L325.25 346.2 L325.5 346.2 L325.75 346.2 L326 346.2 L326.25 346.2 L326.5 346.2 L326.75 346.2 L327 346.2 L327.25 346.2 L327.5 346.2 L327.75 346.2 L328 346.2 L328.25 346.2 L328.5 346.2 L328.75 346.2 L329 346.2 L329.25 346.2 L329.5 346.2 L329.75 346.2 L330 346.2 L330.25 346.2 L330.5 346.2 L330.75 346.2 L331 346.2 L331.25 346.2 L331.5 346.2 L331.75 346.2 L332 346.2 L332.25 346.2 L332.5 346.2 L332.75 346.2 L333 346.2 L333.25 346.2 L333.5 346.2 L333.75 346.2 L334 346.2 L334.25 346.2 L334.5 346.2 L334.75 346.2 L335 346.2 L335.25 346.2 L335.5 346.2 L335.75 346.2 L336 346.2 L336.25 346.2 L336.5 346.2 L336.75 346.2 L337 346.2 L337.25 346.2 L337.5 346.2 L337.75 346.2 L338 346.2 L338.25 346.2 L338.5 346.2 L338.75 346.2 L339 346.2 L339.25 346.2 L339.5 346.2 L339.75 346.2 L340 346.2 L340.25 346.2 L340.5 346.2 L340.75 346.2 L341 346.2 L341.25 346.2 L341.5 346.2 L341.75 346.2 L342 346.2 L342.25 346.2 L342.5 346.2 L342.75 346.2 L343 346.2 L343.25 346.2 L343.5 346.2 L343.75 346.2 L344 346.2 L344.25 346.2 L344.5 346.2 L344.75 346.2 L345 346.2 L345.25 346.2 L345.5 346.2 L345.75 346.2 L346 346.2 L346.25 346.2 L346.5 346.2 L346.75 346.2 L347 346.2 L347.25 346.2 L347.5 346.2 L347.75 346.2 L348 346.2 L348.25 346.2 L348.5 346.2 L348.75 346.2 L349 346.2 L349.25 346.2 L349.5 346.2 L349.75 346.2 L350 346.2 L350.25 346.2 L350.5 346.2 L350.75 346.2 L351 346.2 L351.25 346.2 L351.5 346.2 L351.75 346.2 L352 346.2 L352.25 346.2 L352.5 346.2 L352.75 346.2 L353 346.2 L353.25 346.2 L353.5 346.2 L353.75 346.2 L354 346.2 L354.25 346.2 L354.5 346.2 L354.75 346.2 L355 346.2 L355.25 346.2 L355.5 346.2 L355.75 346.2 L356 346.2 L356.25 346.2 L356.5 346.2 L356.75 346.2 L357 346.2 L357.25 346.2 L357.5 346.2 L357.75 346.2 L358 346.2 L358.25 346.2 L358.5 346.2 L358.75 346.2 L359 346.2 L359.25 346.2 L359.5 346.2 L359.75 346.2 L360 346.2 L360.25 346.2 L360.5 346.2 L360.75 346.2 L361 346.2 L361.25 346.2 L361.5 346.2 L361.75 346.2 L362 346.2 L362.25 346.2 L362.5 346.2 L362.75 346.2 L363 346.2 L363.25 346.2 L363.5 346.2 L363.75 346.2 L364 346.2 L364.25 346.2 L364.5 346.2 L364.75 346.2 L365 346.2 L365.25 346.2 L365.5 346.2 L365.75 346.2 L366 346.2 L366.25 346.2 L366.5 346.2 L366.75 346.2 L367 346.2 L367.25 346.2 L367.5 346.2 L367.75 346.2 L368 346.2 L368.25 346.2 L368.5 346.2 L368.75 346.2 L369 346.2 L369.25 346.2 L369.5 346.2 L369.75 346.2 L370 346.2 L370.25 346.2 L370.5 346.2 L370.75 346.2 L371 346.2 L371.25 346.2 L371.5 346.2 L371.75 346.2 L372 346.2 L372.25 346.2 L372.5 346.2 L372.75 346.2 L373 346.2 L373.25 346.2 L373.5 346.2 L373.75 346.2 L374 346.2 L374.25 346.2 L374.5 346.2 L374.75 346.2 L375 346.2 L375.25 346.2 L375.5 346.2 L375.75 346.2 L376 346.2 L376.25 346.2 L376.5 346.2 L376.75 346.2 L377 346.2 L377.25 346.2 L377.5 346.2 L377.75 346.2 L378 346.2 L378.25 346.2 L378.5 346.2 L378.75 346.2 L379 346.2 L379.25 346.2 L379.5 346.2 L379.75 346.2 L380 346.2 L380.25 346.2 L380.5 346.2 L380.75 346.2 L381 346.2 L381.25 346.2 L381.5 346.2 L381.75 346.2 L382 346.2 L382.25 346.2 L382.5 346.2 L382.75 346.2 L383 346.2 L383.25 346.2 L383.5 346.2 L383.75 346.2 L384 346.2 L384.25 346.2 L384.5 346.2 L384.75 346.2 L385 346.2 L385.25 346.2 L385.5 346.2 L385.75 346.2 L386 346.2 L386.25 346.2 L386.5 346.2 L386.75 346.2 L387 346.2 L387.25 346.2 L387.5 346.2 L387.75 346.2 L388 346.2 L388.25 346.2 L388.5 346.2 L388.75 346.2 L389 346.2 L389.25 346.2 L389.5 346.2 L389.75 346.2 L390 346.2 L390.25 346.2 L390.5 346.2 L390.75 346.2 L391 346.2 L391.25 346.2 L391.5 346.2 L391.75 346.2 L392 346.2 L392.25 346.2 L392.5 346.2 L392.75 346.2 L393 346.2 L393.25 346.2 L393.5 346.2 L393.75 346.2 L394 346.2 L394.25 346.2 L394.5 346.2 L394.75 346.2 L395 346.2 L395.25 346.2 L395.5 346.2 L395.75 346.2 L396 346.2 L396.25 346.2 L396.5 346.2 L396.75 346.2 L397 346.2 L397.25 346.2 L397.5 346.2 L397.75 346.2 L398 346.2 L398.25 346.2 L398.5 346.2 L398.75 346.2 L399 346.2 L399.25 346.2 L399.5 346.2 L399.75 346.2 L400 346.2 L400.25 346.2 L400.5 346.2 L400.75 346.2 L401 346.2 L401.25 346.2 L401.5 346.2 L401.75 346.2 L402 346.2 L402.25 346.2 L402.5 346.2 L402.75 346.2 L403 346.2 L403.25 346.39 L403.5 346.94 L403.75 347.86 L404 349.09 L404.25 350.62 L404.5 352.4 L404.75 354.37 L405 356.48 L405.25 358.66 L405.5 360.86 L405.75 363 L406 365.03 L406.25 366.89 L406.5 368.53 L406.75 369.89 L407 370.93 L407.25 371.63 L407.5 371.97 L407.75 371.94 L408 371.56 L408.25 370.85 L408.5 369.82 L408.75 368.48 L409 366.86 L409.25 364.99 L409.5 362.89 L409.75 360.61 L410 358.18 L410.25 355.64 L410.5 353.05 L410.75 350.43 L411 347.84 L411.25 345.32 L411.5 342.92 L411.75 340.67 L412 338.62 L412.25 336.79 L412.5 335.23 L412.75 333.95 L413 332.98 L413.25 332.33 L413.5 332.03 L413.75 332.06 L414 332.44 L414.25 333.15 L414.5 334.18 L414.75 335.52 L415 337.14 L415.25 339.01 L415.5 341.11 L415.75 343.39 L416 345.82 L416.25 348.36 L416.5 350.95 L416.75 353.57 L417 356.16 L417.25 358.68 L417.5 361.08 L417.75 363.33 L418 365.38 L418.25 367.21 L418.5 368.77 L418.75 370.05 L419 371.02 L419.25 371.67 L419.5 371.97 L419.75 371.94 L420 371.56 L420.25 370.85 L420.5 369.82 L420.75 368.48 L421 366.86 L421.25 364.99 L421.5 362.89 L421.75 360.61 L422 358.18 L422.25 355.64 L422.5 353.05 L422.75 350.43 L423 347.84 L423.25 345.32 L423.5 342.92 L423.75 340.67 L424 338.62 L424.25 336.79 L424.5 335.23 L424.75 333.95 L425 332.98 L425.25 332.33 L425.5 332.03 L425.75 332.06 L426 332.44 L426.25 333.15 L426.5 334.18 L426.75 335.52 L427 337.14 L427.25 339.01 L427.5 341.11 L427.75 343.39 L428 345.82 L428.25 348.36 L428.5 350.95 L428.75 353.57 L429 356.16 L429.25 358.68 L429.5 361.08 L429.75 363.33 L430 365.38 L430.25 367.21 L430.5 368.77 L430.75 370.05 L431 371.02 L431.25 371.67 L431.5 371.97 L431.75 371.94 L432 371.57 L432.25 370.88 L432.5 369.87 L432.75 368.57 L433 366.99 L433.25 365.16 L433.5 363.12 L433.75 360.89 L434 358.53 L434.25 356.05 L434.5 353.52 L434.75 350.97 L435 348.45 L435.25 345.99 L435.5 343.65 L435.75 341.46 L436 339.45 L436.25 337.67 L436.5 336.15 L436.75 334.9 L437 333.95 L437.25 333.33 L437.5 333.03 L437.75 333.06 L438 333.45 L438.25 334.16 L438.5 335.15 L438.75 336.39 L439 337.79 L439.25 339.3 L439.5 340.81 L439.75 342.27 L440 343.58 L440.25 344.68 L440.5 345.51 L440.75 346.02 L441 346.2 L441.25 346.2 L441.5 346.2 L441.75 346.2 L442 346.2 L442.25 346.2 L442.5 346.2 L442.75 346.2 L443 346.2 L443.25 346.2 L443.5 346.2 L443.75 346.2 L444 346.2 L444.25 346.2 L444.5 346.2 L444.75 346.2 L445 346.2 L445.25 346.2 L445.5 346.2 L445.75 346.2 L446 346.2 L446.25 346.2 L446.5 346.2 L446.75 346.2 L447 346.2 L447.25 346.2 L447.5 346.2 L447.75 346.2 L448 346.2 L448.25 346.2 L448.5 346.2 L448.75 346.2 L449 346.2 L449.25 346.2 L449.5 346.2 L449.75 346.2 L450 346.2 L450.25 346.2 L450.5 346.2 L450.75 346.2 L451 346.2 L451.25 346.2 L451.5 346.2 L451.75 346.2 L452 346.2 L452.25 346.2 L452.5 346.2 L452.75 346.2 L453 346.2 L453.25 346.2 L453.5 346.2 L453.75 346.2 L454 346.2 L454.25 346.2 L454.5 346.2 L454.75 346.2 L455 346.2 L455.25 346.2 L455.5 346.2 L455.75 346.2 L456 346.2 L456.25 346.2 L456.5 346.2 L456.75 346.2 L457 346.2 L457.25 346.2 L457.5 346.2 L457.75 346.2 L458 346.2 L458.25 346.2 L458.5 346.2 L458.75 346.2 L459 346.2 L459.25 346.2 L459.5 346.2 L459.75 346.2 L460 346.2 L460.25 346.2 L460.5 346.2 L460.75 346.2 L461 346.2 L461.25 346.2 L461.5 346.2 L461.75 346.2 L462 346.2 L462.25 346.2 L462.5 346.2 L462.75 346.2 L463 346.2 L463.25 346.2 L463.5 346.2 L463.75 346.2 L464 346.2 L464.25 346.2 L464.5 346.2 L464.75 346.2 L465 346.2 L465.25 346.2 L465.5 346.2 L465.75 346.2 L466 346.2 L466.25 346.2 L466.5 346.2 L466.75 346.2 L467 346.2 L467.25 346.2 L467.5 346.2 L467.75 346.2 L468 346.2 L468.25 346.2 L468.5 346.2 L468.75 346.2 L469 346.2 L469.25 346.2 L469.5 346.2 L469.75 346.2 L470 346.2 L470.25 346.2 L470.5 346.2 L470.75 346.2 L471 346.2 L471.25 346.2 L471.5 346.2 L471.75 346.2 L472 346.2 L472.25 346.2 L472.5 346.2 L472.75 346.2 L473 346.2 L473.25 346.2 L473.5 346.2 L473.75 346.2 L474 346.2 L474.25 346.2 L474.5 346.2 L474.75 346.2 L475 346.2 L475.25 346.2 L475.5 346.2 L475.75 346.2 L476 346.2 L476.25 346.2 L476.5 346.2 L476.75 346.2 L477 346.2 L477.25 346.2 L477.5 346.2 L477.75 346.2 L478 346.2 L478.25 346.2 L478.5 346.2 L478.75 346.2 L479 346.2 L479.25 346.2 L479.5 346.2 L479.75 346.2 L480 346.2 L480.25 346.2 L480.5 346.2 L480.75 346.2 L481 346.2 L481.25 346.2 L481.5 346.2 L481.75 346.2 L482 346.2 L482.25 346.2 L482.5 346.2 L482.75 346.2 L483 346.2 L483.25 346.2 L483.5 346.2 L483.75 346.2 L484 346.2 L484.25 346.2 L484.5 346.2 L484.75 346.2 L485 346.2 L485.25 346.2 L485.5 346.2 L485.75 346.2 L486 346.2 L486.25 346.2 L486.5 346.2 L486.75 346.2 L487 346.2 L487.25 346.2 L487.5 346.2 L487.75 346.2 L488 346.2 L488.25 346.2 L488.5 346.2 L488.75 346.2 L489 346.2 L489.25 346.2 L489.5 346.2 L489.75 346.2 L490 346.2 L490.25 346.2 L490.5 346.2 L490.75 346.2 L491 346.2 L491.25 346.2 L491.5 346.2 L491.75 346.2 L492 346.2 L492.25 346.2 L492.5 346.2 L492.75 346.2 L493 346.2 L493.25 346.2 L493.5 346.2 L493.75 346.2 L494 346.2 L494.25 346.2 L494.5 346.2 L494.75 346.2 L495 346.2 L495.25 346.2 L495.5 346.2 L495.75 346.2 L496 346.2 L496.25 346.2 L496.5 346.2 L496.75 346.2 L497 346.2 L497.25 346.2 L497.5 346.2 L497.75 346.2 L498 346.2 L498.25 346.2 L498.5 346.2 L498.75 346.2 L499 346.2 L499.25 346.2 L499.5 346.2 L499.75 346.2 L500 346.2 L500.25 346.2 L500.5 346.2 L500.75 346.2 L501 346.2 L501.25 346.2 L501.5 346.2 L501.75 346.2 L502 346.2 L502.25 346.2 L502.5 346.2 L502.75 346.2 L503 346.2 L503.25 346.2 L503.5 346.2 L503.75 346.2 L504 346.2 L504.25 346.2 L504.5 346.2 L504.75 346.2 L505 346.2 L505.25 346.2 L505.5 346.2 L505.75 346.2 L506 346.2 L506.25 346.2 L506.5 346.2 L506.75 346.2 L507 346.2 L507.25 346.2 L507.5 346.2 L507.75 346.2 L508 346.2 L508.25 346.2 L508.5 346.2 L508.75 346.2 L509 346.2 L509.25 346.2 L509.5 346.2 L509.75 346.2 L510 346.2 L510.25 346.2 L510.5 346.2 L510.75 346.2 L511 346.2 L511.25 346.2 L511.5 346.2 L511.75 346.2 L512 346.2 L512.25 346.2 L512.5 346.2 L512.75 346.2 L513 346.2 L513.25 346.2 L513.5 346.2 L513.75 346.2 L514 346.2 L514.25 346.2 L514.5 346.2 L514.75 346.2 L515 346.2 L515.25 346.2 L515.5 346.2 L515.75 346.2 L516 346.2 L516.25 346.2 L516.5 346.2 L516.75 346.2 L517 346.2 L517.25 346.2 L517.5 346.2 L517.75 346.2 L518 346.2 L518.25 346.2 L518.5 346.2 L518.75 346.2 L519 346.2 L519.25 346.2 L519.5 346.2 L519.75 346.2 L520 346.2" fill="none" stroke="#d62728" stroke-width="3.4" stroke-linecap="round" stroke-linejoin="round"/>
<path d="M150.5 344.8 L150.75 344.8 L151 344.8 L151.25 344.8 L151.5 344.8 L151.75 344.8 L152 344.8 L152.25 344.8 L152.5 344.8 L152.75 344.8 L153 344.8 L153.25 344.8 L153.5 344.8 L153.75 344.8 L154 344.8 L154.25 344.8 L154.5 344.8 L154.75 344.8 L155 344.8 L155.25 344.8 L155.5 344.8 L155.75 344.8 L156 344.8 L156.25 344.8 L156.5 344.8 L156.75 344.8 L157 344.8 L157.25 344.8 L157.5 344.8 L157.75 344.8 L158 344.8 L158.25 344.8 L158.5 344.8 L158.75 344.8 L159 344.8 L159.25 344.8 L159.5 344.8 L159.75 344.8 L160 344.8 L160.25 344.8 L160.5 344.8 L160.75 344.8 L161 344.8 L161.25 344.8 L161.5 344.8 L161.75 344.8 L162 344.8 L162.25 344.8 L162.5 344.8 L162.75 344.8 L163 344.8 L163.25 344.8 L163.5 344.8 L163.75 344.8 L164 344.8 L164.25 344.8 L164.5 344.8 L164.75 344.8 L165 344.8 L165.25 344.8 L165.5 344.8 L165.75 344.8 L166 344.8 L166.25 344.85 L166.5 345.01 L166.75 345.26 L167 345.59 L167.25 345.99 L167.5 346.43 L167.75 346.9 L168 347.37 L168.25 347.81 L168.5 348.21 L168.75 348.54 L169 348.79 L169.25 348.95 L169.5 349 L169.75 348.75 L170 348 L170.25 346.83 L170.5 345.32 L170.75 343.59 L171 341.77 L171.25 340.01 L171.5 338.45 L171.75 337.2 L172 336.36 L172.25 336.01 L172.5 336.1 L172.75 336.49 L173 337.18 L173.25 338.11 L173.5 339.25 L173.75 340.55 L174 341.93 L174.25 343.35 L174.5 344.72 L174.75 345.99 L175 347.1 L175.25 347.98 L175.5 348.61 L175.75 348.94 L176 348.98 L176.25 348.7 L176.5 348.13 L176.75 347.29 L177 346.23 L177.25 344.99 L177.5 343.63 L177.75 342.22 L178 340.82 L178.25 339.5 L178.5 338.32 L178.75 337.34 L179 336.61 L179.25 336.15 L179.5 336 L179.75 336.22 L180 336.87 L180.25 337.9 L180.5 339.25 L180.75 340.82 L181 342.5 L181.25 344.18 L181.5 345.75 L181.75 347.1 L182 348.13 L182.25 348.78 L182.5 349 L182.75 348.85 L183 348.39 L183.25 347.66 L183.5 346.68 L183.75 345.5 L184 344.18 L184.25 342.78 L184.5 341.37 L184.75 340.01 L185 338.77 L185.25 337.71 L185.5 336.87 L185.75 336.3 L186 336.02 L186.25 336.12 L186.5 336.87 L186.75 338.21 L187 340.01 L187.25 342.07 L187.5 344.18 L187.75 346.11 L188 347.66 L188.25 348.66 L188.5 349 L188.75 348.73 L189 347.93 L189.25 346.68 L189.5 345.07 L189.75 343.25 L190 341.37 L190.25 339.58 L190.5 338.04 L190.75 336.87 L191 336.18 L191.25 336.01 L191.5 336.46 L191.75 337.49 L192 339.02 L192.25 340.88 L192.5 342.91 L192.75 344.89 L193 346.64 L193.25 347.99 L193.5 348.8 L193.75 348.99 L194 348.66 L194.25 347.88 L194.5 346.71 L194.75 345.23 L195 343.55 L195.25 341.8 L195.5 340.09 L195.75 338.57 L196 337.33 L196.25 336.46 L196.5 336.04 L196.75 336.07 L197 336.47 L197.25 337.19 L197.5 338.16 L197.75 339.27 L198 340.41 L198.25 341.44 L198.5 342.28 L198.75 342.81 L199 343 L199.25 343.05 L199.5 343.2 L199.75 343.44 L200 343.75 L200.25 344.11 L200.5 344.5 L200.75 344.89 L201 345.25 L201.25 345.56 L201.5 345.8 L201.75 345.95 L202 346 L202.25 345.96 L202.5 345.83 L202.75 345.63 L203 345.38 L203.25 345.07 L203.5 344.75 L203.75 344.43 L204 344.12 L204.25 343.87 L204.5 343.67 L204.75 343.54 L205 343.5 L205.25 343.55 L205.5 343.7 L205.75 343.94 L206 344.25 L206.25 344.61 L206.5 345 L206.75 345.39 L207 345.75 L207.25 346.06 L207.5 346.3 L207.75 346.45 L208 346.5 L208.25 346.48 L208.5 346.4 L208.75 346.28 L209 346.12 L209.25 345.92 L209.5 345.7 L209.75 345.45 L210 345.2 L210.25 344.95 L210.5 344.7 L210.75 344.48 L211 344.28 L211.25 344.12 L211.5 344 L211.75 343.92 L212 343.9 L212.25 343.9 L212.5 343.9 L212.75 343.9 L213 343.9 L213.25 343.9 L213.5 343.9 L213.75 343.9 L214 343.9 L214.25 343.9 L214.5 343.9 L214.75 343.9 L215 343.9 L215.25 343.9 L215.5 343.9 L215.75 343.9 L216 343.9 L216.25 343.9 L216.5 343.9 L216.75 343.9 L217 343.9 L217.25 343.9 L217.5 343.9 L217.75 343.9 L218 343.9 L218.25 343.9 L218.5 343.9 L218.75 343.9 L219 343.9 L219.25 343.9 L219.5 343.9 L219.75 343.9 L220 343.9 L220.25 343.9 L220.5 343.9 L220.75 343.9 L221 343.9 L221.25 343.9 L221.5 343.9 L221.75 343.9 L222 343.9 L222.25 343.9 L222.5 343.9 L222.75 343.9 L223 343.9 L223.25 343.9 L223.5 343.9 L223.75 343.9 L224 343.9 L224.25 343.9 L224.5 343.9 L224.75 343.9 L225 343.9 L225.25 343.9 L225.5 343.9 L225.75 343.9 L226 343.9 L226.25 343.9 L226.5 343.9 L226.75 343.9 L227 343.9 L227.25 343.9 L227.5 343.9 L227.75 343.9 L228 343.9 L228.25 343.9 L228.5 343.9 L228.75 343.9 L229 343.9 L229.25 343.9 L229.5 343.9 L229.75 343.9 L230 343.9 L230.25 343.9 L230.5 343.9 L230.75 343.9 L231 343.9 L231.25 343.9 L231.5 343.9 L231.75 343.9 L232 343.9 L232.25 343.9 L232.5 343.9 L232.75 343.9 L233 343.9 L233.25 343.9 L233.5 343.9 L233.75 343.9 L234 343.9 L234.25 343.9 L234.5 343.9 L234.75 343.9 L235 343.9 L235.25 343.9 L235.5 343.9 L235.75 343.9 L236 343.9 L236.25 343.9 L236.5 343.9 L236.75 343.9 L237 343.9 L237.25 343.9 L237.5 343.9 L237.75 343.9 L238 343.9 L238.25 343.9 L238.5 343.9 L238.75 343.9 L239 343.9 L239.25 343.9 L239.5 343.9 L239.75 343.9 L240 343.9 L240.25 343.9 L240.5 343.9 L240.75 343.9 L241 343.9 L241.25 343.9 L241.5 343.9 L241.75 343.9 L242 343.9 L242.25 343.9 L242.5 343.9 L242.75 343.9 L243 343.9 L243.25 343.9 L243.5 343.9 L243.75 343.9 L244 343.9 L244.25 343.9 L244.5 343.9 L244.75 343.9 L245 343.9 L245.25 343.9 L245.5 343.9 L245.75 343.9 L246 343.9 L246.25 343.9 L246.5 343.9 L246.75 343.9 L247 343.9 L247.25 343.9 L247.5 343.9 L247.75 343.9 L248 343.9 L248.25 343.9 L248.5 343.9 L248.75 343.9 L249 343.9 L249.25 343.9 L249.5 343.9 L249.75 343.9 L250 343.9 L250.25 343.9 L250.5 343.9 L250.75 343.9 L251 343.9 L251.25 343.9 L251.5 343.9 L251.75 343.9 L252 343.9 L252.25 343.9 L252.5 343.9 L252.75 343.9 L253 343.9 L253.25 343.9 L253.5 343.9 L253.75 343.9 L254 343.9 L254.25 343.9 L254.5 343.9 L254.75 343.9 L255 343.9 L255.25 343.9 L255.5 343.9 L255.75 343.9 L256 343.9 L256.25 343.9 L256.5 343.9 L256.75 343.9 L257 343.9 L257.25 343.9 L257.5 343.9 L257.75 343.9 L258 343.9 L258.25 343.9 L258.5 343.9 L258.75 343.9 L259 343.9 L259.25 343.9 L259.5 343.9 L259.75 343.9 L260 343.9 L260.25 343.9 L260.5 343.9 L260.75 343.9 L261 343.9 L261.25 343.9 L261.5 343.9 L261.75 343.9 L262 343.9 L262.25 343.9 L262.5 343.9 L262.75 343.9 L263 343.9 L263.25 343.9 L263.5 343.9 L263.75 343.9 L264 343.9 L264.25 343.9 L264.5 343.9 L264.75 343.9 L265 343.9 L265.25 343.9 L265.5 343.9 L265.75 343.9 L266 343.9 L266.25 343.9 L266.5 343.9 L266.75 343.9 L267 343.9 L267.25 343.9 L267.5 343.9 L267.75 343.9 L268 343.9 L268.25 343.9 L268.5 343.9 L268.75 343.9 L269 343.9 L269.25 343.9 L269.5 343.9 L269.75 343.9 L270 343.9 L270.25 343.9 L270.5 343.9 L270.75 343.9 L271 343.9 L271.25 343.9 L271.5 343.9 L271.75 343.9 L272 343.9 L272.25 343.9 L272.5 343.9 L272.75 343.9 L273 343.9 L273.25 343.9 L273.5 343.9 L273.75 343.9 L274 343.9 L274.25 343.9 L274.5 343.9 L274.75 343.9 L275 343.9 L275.25 343.9 L275.5 343.9 L275.75 343.9 L276 343.9 L276.25 343.9 L276.5 343.9 L276.75 343.9 L277 343.9 L277.25 343.9 L277.5 343.9 L277.75 343.9 L278 343.9 L278.25 343.9 L278.5 343.9 L278.75 343.9 L279 343.9 L279.25 343.9 L279.5 343.9 L279.75 343.9 L280 343.9 L280.25 343.9 L280.5 343.9 L280.75 343.9 L281 343.9 L281.25 343.9 L281.5 343.9 L281.75 343.9 L282 343.9 L282.25 343.9 L282.5 343.9 L282.75 343.9 L283 343.9 L283.25 343.9 L283.5 343.9 L283.75 343.9 L284 343.9 L284.25 343.9 L284.5 343.9 L284.75 343.9 L285 343.9 L285.25 343.9 L285.5 343.9 L285.75 343.9 L286 343.9 L286.25 343.9 L286.5 343.9 L286.75 343.9 L287 343.9 L287.25 343.9 L287.5 343.9 L287.75 343.9 L288 343.9 L288.25 343.9 L288.5 343.9 L288.75 343.9 L289 343.9 L289.25 343.9 L289.5 343.9 L289.75 343.9 L290 343.9 L290.25 343.9 L290.5 343.9 L290.75 343.9 L291 343.9 L291.25 343.9 L291.5 343.9 L291.75 343.9 L292 343.9 L292.25 343.9 L292.5 343.9 L292.75 343.9 L293 343.9 L293.25 343.9 L293.5 343.9 L293.75 343.9 L294 343.9 L294.25 343.9 L294.5 343.9 L294.75 343.9 L295 343.9 L295.25 343.9 L295.5 343.9 L295.75 343.9 L296 343.9 L296.25 343.9 L296.5 343.9 L296.75 343.9 L297 343.9 L297.25 343.9 L297.5 343.9 L297.75 343.9 L298 343.9 L298.25 343.9 L298.5 343.9 L298.75 343.9 L299 343.9 L299.25 343.9 L299.5 343.9 L299.75 343.9 L300 343.9 L300.25 343.9 L300.5 343.9 L300.75 343.9 L301 343.9 L301.25 343.9 L301.5 343.9 L301.75 343.9 L302 343.9 L302.25 343.9 L302.5 343.9 L302.75 343.9 L303 343.9 L303.25 343.9 L303.5 343.9 L303.75 343.9 L304 343.9 L304.25 343.9 L304.5 343.9 L304.75 343.9 L305 343.9 L305.25 343.9 L305.5 343.9 L305.75 343.9 L306 343.9 L306.25 343.9 L306.5 343.9 L306.75 343.9 L307 343.9 L307.25 343.9 L307.5 343.9 L307.75 343.9 L308 343.9 L308.25 343.9 L308.5 343.9 L308.75 343.9 L309 343.9 L309.25 343.9 L309.5 343.9 L309.75 343.9 L310 343.9 L310.25 343.9 L310.5 343.9 L310.75 343.9 L311 343.9 L311.25 343.9 L311.5 343.9 L311.75 343.9 L312 343.9 L312.25 343.9 L312.5 343.9 L312.75 343.9 L313 343.9 L313.25 343.9 L313.5 343.9 L313.75 343.9 L314 343.9 L314.25 343.9 L314.5 343.9 L314.75 343.9 L315 343.9 L315.25 343.9 L315.5 343.9 L315.75 343.9 L316 343.9 L316.25 343.9 L316.5 343.9 L316.75 343.9 L317 343.9 L317.25 343.9 L317.5 343.9 L317.75 343.9 L318 343.9 L318.25 343.9 L318.5 343.9 L318.75 343.9 L319 343.9 L319.25 343.9 L319.5 343.9 L319.75 343.9 L320 343.9 L320.25 343.9 L320.5 343.9 L320.75 343.9 L321 343.9 L321.25 343.9 L321.5 343.9 L321.75 343.9 L322 343.9 L322.25 343.9 L322.5 343.9 L322.75 343.9 L323 343.9 L323.25 343.9 L323.5 343.9 L323.75 343.9 L324 343.9 L324.25 343.9 L324.5 343.9 L324.75 343.9 L325 343.9 L325.25 343.9 L325.5 343.9 L325.75 343.9 L326 343.9 L326.25 343.9 L326.5 343.9 L326.75 343.9 L327 343.9 L327.25 343.9 L327.5 343.9 L327.75 343.9 L328 343.9 L328.25 343.9 L328.5 343.9 L328.75 343.9 L329 343.9 L329.25 343.9 L329.5 343.9 L329.75 343.9 L330 343.9 L330.25 343.9 L330.5 343.9 L330.75 343.9 L331 343.9 L331.25 343.9 L331.5 343.9 L331.75 343.9 L332 343.9 L332.25 343.9 L332.5 343.9 L332.75 343.9 L333 343.9 L333.25 343.9 L333.5 343.9 L333.75 343.9 L334 343.9 L334.25 343.9 L334.5 343.9 L334.75 343.9 L335 343.9 L335.25 343.9 L335.5 343.9 L335.75 343.9 L336 343.9 L336.25 343.9 L336.5 343.9 L336.75 343.9 L337 343.9 L337.25 343.9 L337.5 343.9 L337.75 343.9 L338 343.9 L338.25 343.9 L338.5 343.9 L338.75 343.9 L339 343.9 L339.25 343.9 L339.5 343.9 L339.75 343.9 L340 343.9 L340.25 343.9 L340.5 343.9 L340.75 343.9 L341 343.9 L341.25 343.9 L341.5 343.9 L341.75 343.9 L342 343.9 L342.25 343.9 L342.5 343.9 L342.75 343.9 L343 343.9 L343.25 343.9 L343.5 343.9 L343.75 343.9 L344 343.9 L344.25 343.9 L344.5 343.9 L344.75 343.9 L345 343.9 L345.25 343.9 L345.5 343.9 L345.75 343.9 L346 343.9 L346.25 343.9 L346.5 343.9 L346.75 343.9 L347 343.9 L347.25 343.9 L347.5 343.9 L347.75 343.9 L348 343.9 L348.25 343.9 L348.5 343.9 L348.75 343.9 L349 343.9 L349.25 343.9 L349.5 343.9 L349.75 343.9 L350 343.9 L350.25 343.9 L350.5 343.9 L350.75 343.9 L351 343.9 L351.25 343.9 L351.5 343.9 L351.75 343.9 L352 343.9 L352.25 343.9 L352.5 343.9 L352.75 343.9 L353 343.9 L353.25 343.9 L353.5 343.9 L353.75 343.9 L354 343.9 L354.25 343.9 L354.5 343.9 L354.75 343.9 L355 343.9 L355.25 343.9 L355.5 343.9 L355.75 343.9 L356 343.9 L356.25 343.9 L356.5 343.9 L356.75 343.9 L357 343.9 L357.25 343.9 L357.5 343.9 L357.75 343.9 L358 343.9 L358.25 343.9 L358.5 343.9 L358.75 343.9 L359 343.9 L359.25 343.9 L359.5 343.9 L359.75 343.9 L360 343.9 L360.25 343.9 L360.5 343.9 L360.75 343.9 L361 343.9 L361.25 343.9 L361.5 343.9 L361.75 343.9 L362 343.9 L362.25 343.9 L362.5 343.9 L362.75 343.9 L363 343.9 L363.25 343.9 L363.5 343.9 L363.75 343.9 L364 343.9 L364.25 343.9 L364.5 343.9 L364.75 343.9 L365 343.9 L365.25 343.9 L365.5 343.9 L365.75 343.9 L366 343.9 L366.25 343.9 L366.5 343.9 L366.75 343.9 L367 343.9 L367.25 343.9 L367.5 343.9 L367.75 343.9 L368 343.9 L368.25 343.9 L368.5 343.9 L368.75 343.9 L369 343.9 L369.25 343.9 L369.5 343.9 L369.75 343.9 L370 343.9 L370.25 343.9 L370.5 343.9 L370.75 343.9 L371 343.9 L371.25 343.9 L371.5 343.9 L371.75 343.9 L372 343.9 L372.25 343.9 L372.5 343.9 L372.75 343.9 L373 343.9 L373.25 343.9 L373.5 343.9 L373.75 343.9 L374 343.9 L374.25 343.9 L374.5 343.9 L374.75 343.9 L375 343.9 L375.25 343.9 L375.5 343.9 L375.75 343.9 L376 343.9 L376.25 343.9 L376.5 343.9 L376.75 343.9 L377 343.9 L377.25 343.9 L377.5 343.9 L377.75 343.9 L378 343.9 L378.25 343.9 L378.5 343.9 L378.75 343.9 L379 343.9 L379.25 343.9 L379.5 343.9 L379.75 343.9 L380 343.9 L380.25 343.9 L380.5 343.9 L380.75 343.9 L381 343.9 L381.25 343.9 L381.5 343.9 L381.75 343.9 L382 343.9 L382.25 343.9 L382.5 343.9 L382.75 343.9 L383 343.9 L383.25 343.9 L383.5 343.9 L383.75 343.9 L384 343.9 L384.25 343.9 L384.5 343.9 L384.75 343.9 L385 343.9 L385.25 343.9 L385.5 343.9 L385.75 343.9 L386 343.9 L386.25 343.9 L386.5 343.9 L386.75 343.9 L387 343.9 L387.25 343.9 L387.5 343.9 L387.75 343.9 L388 343.9 L388.25 343.9 L388.5 343.9 L388.75 343.9 L389 343.9 L389.25 343.9 L389.5 343.9 L389.75 343.9 L390 343.9 L390.25 343.9 L390.5 343.9 L390.75 343.9 L391 343.9 L391.25 343.9 L391.5 343.9 L391.75 343.9 L392 343.9 L392.25 343.9 L392.5 343.9 L392.75 343.9 L393 343.9 L393.25 343.9 L393.5 343.9 L393.75 343.9 L394 343.9 L394.25 343.9 L394.5 343.9 L394.75 343.9 L395 343.9 L395.25 343.9 L395.5 343.9 L395.75 343.9 L396 343.9 L396.25 343.9 L396.5 343.9 L396.75 343.9 L397 343.9 L397.25 343.9 L397.5 343.9 L397.75 343.9 L398 343.9 L398.25 343.9 L398.5 343.9 L398.75 343.9 L399 343.9 L399.25 343.9 L399.5 343.9 L399.75 343.9 L400 343.9 L400.25 343.9 L400.5 343.9 L400.75 343.9 L401 343.9 L401.25 343.9 L401.5 343.9 L401.75 343.9 L402 343.9 L402.25 343.9 L402.5 343.9 L402.75 343.9 L403 343.9 L403.25 343.9 L403.5 343.9 L403.75 343.9 L404 343.9 L404.25 343.9 L404.5 343.9 L404.75 343.9 L405 343.9 L405.25 343.99 L405.5 344.24 L405.75 344.65 L406 345.17 L406.25 345.79 L406.5 346.45 L406.75 347.11 L407 347.72 L407.25 348.25 L407.5 348.66 L407.75 348.91 L408 349 L408.25 348.8 L408.5 348.21 L408.75 347.27 L409 346.02 L409.25 344.53 L409.5 342.88 L409.75 341.15 L410 339.45 L410.25 337.85 L410.5 336.45 L410.75 335.31 L411 334.51 L411.25 334.07 L411.5 334.03 L411.75 334.39 L412 335.12 L412.25 336.2 L412.5 337.55 L412.75 339.12 L413 340.81 L413.25 342.54 L413.5 344.21 L413.75 345.74 L414 347.04 L414.25 348.05 L414.5 348.71 L414.75 348.99 L415 348.88 L415.25 348.4 L415.5 347.57 L415.75 346.43 L416 345.05 L416.25 343.5 L416.5 341.84 L416.75 340.16 L417 338.55 L417.25 337.09 L417.5 335.85 L417.75 334.9 L418 334.27 L418.25 334.01 L418.5 334.15 L418.75 334.77 L419 335.81 L419.25 337.22 L419.5 338.9 L419.75 340.74 L420 342.64 L420.25 344.46 L420.5 346.09 L420.75 347.43 L421 348.39 L421.25 348.91 L421.5 348.96 L421.75 348.56 L422 347.74 L422.25 346.54 L422.5 345.04 L422.75 343.32 L423 341.5 L423.25 339.68 L423.5 337.96 L423.75 336.46 L424 335.26 L424.25 334.44 L424.5 334.04 L424.75 334.08 L425 334.57 L425.25 335.48 L425.5 336.74 L425.75 338.29 L426 340.04 L426.25 341.87 L426.5 343.68 L426.75 345.36 L427 346.8 L427.25 347.93 L427.5 348.68 L427.75 348.99 L428 348.86 L428.25 348.28 L428.5 347.3 L428.75 345.97 L429 344.37 L429.25 342.6 L429.5 340.76 L429.75 338.97 L430 337.33 L430.25 335.94 L430.5 334.89 L430.75 334.22 L431 334 L431.25 334.29 L431.5 335.15 L431.75 336.5 L432 338.25 L432.25 340.24 L432.5 342.34 L432.75 344.37 L433 346.18 L433.25 347.62 L433.5 348.58 L433.75 348.99 L434 348.81 L434.25 348.06 L434.5 346.8 L434.75 345.13 L435 343.17 L435.25 341.08 L435.5 339.02 L435.75 337.16 L436 335.64 L436.25 334.57 L436.5 334.05 L436.75 334.08 L437 334.55 L437.25 335.43 L437.5 336.63 L437.75 338.08 L438 339.68 L438.25 341.29 L438.5 342.81 L438.75 344.13 L439 345.14 L439.25 345.78 L439.5 346 L439.75 345.86 L440 345.48 L440.25 344.95 L440.5 344.43 L440.75 344.04 L441 343.9 L441.25 343.9 L441.5 343.9 L441.75 343.9 L442 343.9 L442.25 343.9 L442.5 343.9 L442.75 343.9 L443 343.9 L443.25 343.9 L443.5 343.9 L443.75 343.9 L444 343.9 L444.25 343.9 L444.5 343.9 L444.75 343.9 L445 343.9 L445.25 343.9 L445.5 343.9 L445.75 343.9 L446 343.9 L446.25 343.9 L446.5 343.9 L446.75 343.9 L447 343.9 L447.25 343.9 L447.5 343.9 L447.75 343.9 L448 343.9 L448.25 343.9 L448.5 343.9 L448.75 343.9 L449 343.9 L449.25 343.9 L449.5 343.9 L449.75 343.9 L450 343.9 L450.25 343.9 L450.5 343.9 L450.75 343.9 L451 343.9 L451.25 343.9 L451.5 343.9 L451.75 343.9 L452 343.9 L452.25 343.9 L452.5 343.9 L452.75 343.9 L453 343.9 L453.25 343.9 L453.5 343.9 L453.75 343.9 L454 343.9 L454.25 343.9 L454.5 343.9 L454.75 343.9 L455 343.9 L455.25 343.9 L455.5 343.9 L455.75 343.9 L456 343.9 L456.25 343.9 L456.5 343.9 L456.75 343.9 L457 343.9 L457.25 343.9 L457.5 343.9 L457.75 343.9 L458 343.9 L458.25 343.9 L458.5 343.9 L458.75 343.9 L459 343.9 L459.25 343.9 L459.5 343.9 L459.75 343.9 L460 343.9 L460.25 343.9 L460.5 343.9 L460.75 343.9 L461 343.9 L461.25 343.9 L461.5 343.9 L461.75 343.9 L462 343.9 L462.25 343.9 L462.5 343.9 L462.75 343.9 L463 343.9 L463.25 343.9 L463.5 343.9 L463.75 343.9 L464 343.9 L464.25 343.9 L464.5 343.9 L464.75 343.9 L465 343.9 L465.25 343.9 L465.5 343.9 L465.75 343.9 L466 343.9 L466.25 343.9 L466.5 343.9 L466.75 343.9 L467 343.9 L467.25 343.9 L467.5 343.9 L467.75 343.9 L468 343.9 L468.25 343.9 L468.5 343.9 L468.75 343.9 L469 343.9 L469.25 343.9 L469.5 343.9 L469.75 343.9 L470 343.9 L470.25 343.9 L470.5 343.9 L470.75 343.9 L471 343.9 L471.25 343.9 L471.5 343.9 L471.75 343.9 L472 343.9 L472.25 343.9 L472.5 343.9 L472.75 343.9 L473 343.9 L473.25 343.9 L473.5 343.9 L473.75 343.9 L474 343.9 L474.25 343.9 L474.5 343.9 L474.75 343.9 L475 343.9 L475.25 343.9 L475.5 343.9 L475.75 343.9 L476 343.9 L476.25 343.9 L476.5 343.9 L476.75 343.9 L477 343.9 L477.25 343.9 L477.5 343.9 L477.75 343.9 L478 343.9 L478.25 343.9 L478.5 343.9 L478.75 343.9 L479 343.9 L479.25 343.9 L479.5 343.9 L479.75 343.9 L480 343.9 L480.25 343.9 L480.5 343.9 L480.75 343.9 L481 343.9 L481.25 343.9 L481.5 343.9 L481.75 343.9 L482 343.9 L482.25 343.9 L482.5 343.9 L482.75 343.9 L483 343.9 L483.25 343.9 L483.5 343.9 L483.75 343.9 L484 343.9 L484.25 343.9 L484.5 343.9 L484.75 343.9 L485 343.9 L485.25 343.9 L485.5 343.9 L485.75 343.9 L486 343.9 L486.25 343.9 L486.5 343.9 L486.75 343.9 L487 343.9 L487.25 343.9 L487.5 343.9 L487.75 343.9 L488 343.9 L488.25 343.9 L488.5 343.9 L488.75 343.9 L489 343.9 L489.25 343.9 L489.5 343.9 L489.75 343.9 L490 343.9 L490.25 343.9 L490.5 343.9 L490.75 343.9 L491 343.9 L491.25 343.9 L491.5 343.9 L491.75 343.9 L492 343.9 L492.25 343.9 L492.5 343.9 L492.75 343.9 L493 343.9 L493.25 343.9 L493.5 343.9 L493.75 343.9 L494 343.9 L494.25 343.9 L494.5 343.9 L494.75 343.9 L495 343.9 L495.25 343.9 L495.5 343.9 L495.75 343.9 L496 343.9 L496.25 343.9 L496.5 343.9 L496.75 343.9 L497 343.9 L497.25 343.9 L497.5 343.9 L497.75 343.9 L498 343.9 L498.25 343.9 L498.5 343.9 L498.75 343.9 L499 343.9 L499.25 343.9 L499.5 343.9 L499.75 343.9 L500 343.9 L500.25 343.9 L500.5 343.9 L500.75 343.9 L501 343.9 L501.25 343.9 L501.5 343.9 L501.75 343.9 L502 343.9 L502.25 343.9 L502.5 343.9 L502.75 343.9 L503 343.9 L503.25 343.9 L503.5 343.9 L503.75 343.9 L504 343.9 L504.25 343.9 L504.5 343.9 L504.75 343.9 L505 343.9 L505.25 343.9 L505.5 343.9 L505.75 343.9 L506 343.9 L506.25 343.9 L506.5 343.9 L506.75 343.9 L507 343.9 L507.25 343.9 L507.5 343.9 L507.75 343.9 L508 343.9 L508.25 343.9 L508.5 343.9 L508.75 343.9 L509 343.9 L509.25 343.9 L509.5 343.9 L509.75 343.9 L510 343.9 L510.25 343.9 L510.5 343.9 L510.75 343.9 L511 343.9 L511.25 343.9 L511.5 343.9 L511.75 343.9 L512 343.9 L512.25 343.9 L512.5 343.9 L512.75 343.9 L513 343.9 L513.25 343.9 L513.5 343.9 L513.75 343.9 L514 343.9 L514.25 343.9 L514.5 343.9 L514.75 343.9 L515 343.9 L515.25 343.9 L515.5 343.9 L515.75 343.9 L516 343.9 L516.25 343.9 L516.5 343.9 L516.75 343.9 L517 343.9 L517.25 343.9 L517.5 343.9 L517.75 343.9 L518 343.9 L518.25 343.9 L518.5 343.9 L518.75 343.9 L519 343.9 L519.25 343.9 L519.5 343.9 L519.75 343.9 L520 343.9" fill="none" stroke="#9467bd" stroke-width="3.4" stroke-linecap="round" stroke-linejoin="round"/>
<path d="M150.5 344.2 L150.75 344.2 L151 344.2 L151.25 344.2 L151.5 344.2 L151.75 344.2 L152 344.2 L152.25 344.2 L152.5 344.2 L152.75 344.2 L153 344.2 L153.25 344.2 L153.5 344.2 L153.75 344.2 L154 344.2 L154.25 344.2 L154.5 344.2 L154.75 344.2 L155 344.2 L155.25 344.2 L155.5 344.2 L155.75 344.2 L156 344.2 L156.25 344.2 L156.5 344.2 L156.75 344.2 L157 344.2 L157.25 344.2 L157.5 344.2 L157.75 344.2 L158 344.2 L158.25 344.2 L158.5 344.2 L158.75 344.2 L159 344.2 L159.25 344.2 L159.5 344.2 L159.75 344.2 L160 344.2 L160.25 344.2 L160.5 344.2 L160.75 344.2 L161 344.2 L161.25 344.2 L161.5 344.2 L161.75 344.2 L162 344.2 L162.25 344.2 L162.5 344.2 L162.75 344.2 L163 344.2 L163.25 344.2 L163.5 344.2 L163.75 344.2 L164 344.2 L164.25 344.2 L164.5 344.2 L164.75 344.2 L165 344.2 L165.25 344.2 L165.5 344.2 L165.75 344.2 L166 344.2 L166.25 344.16 L166.5 344.05 L166.75 343.88 L167 343.65 L167.25 343.38 L167.5 343.1 L167.75 342.82 L168 342.55 L168.25 342.32 L168.5 342.15 L168.75 342.04 L169 342 L169.25 341.9 L169.5 341.62 L169.75 341.18 L170 340.62 L170.25 340 L170.5 339.38 L170.75 338.82 L171 338.38 L171.25 338.1 L171.5 338 L171.75 337.96 L172 337.83 L172.25 337.62 L172.5 337.34 L172.75 337 L173 336.61 L173.25 336.19 L173.5 335.75 L173.75 335.31 L174 334.89 L174.25 334.5 L174.5 334.16 L174.75 333.88 L175 333.67 L175.25 333.54 L175.5 333.5 L175.75 333.56 L176 333.72 L176.25 333.99 L176.5 334.35 L176.75 334.77 L177 335.25 L177.25 335.75 L177.5 336.25 L177.75 336.73 L178 337.15 L178.25 337.51 L178.5 337.78 L178.75 337.94 L179 338 L179.25 338.1 L179.5 338.38 L179.75 338.82 L180 339.38 L180.25 340 L180.5 340.62 L180.75 341.18 L181 341.62 L181.25 341.9 L181.5 342 L181.75 342 L182 342 L182.25 342 L182.5 342 L182.75 342 L183 342 L183.25 342 L183.5 341.99 L183.75 341.99 L184 341.99 L184.25 341.99 L184.5 341.99 L184.75 341.98 L185 341.98 L185.25 341.98 L185.5 341.98 L185.75 341.97 L186 341.97 L186.25 341.97 L186.5 341.96 L186.75 341.96 L187 341.96 L187.25 341.95 L187.5 341.95 L187.75 341.94 L188 341.94 L188.25 341.93 L188.5 341.93 L188.75 341.92 L189 341.92 L189.25 341.91 L189.5 341.91 L189.75 341.9 L190 341.89 L190.25 341.89 L190.5 341.88 L190.75 341.88 L191 341.87 L191.25 341.86 L191.5 341.86 L191.75 341.85 L192 341.84 L192.25 341.84 L192.5 341.83 L192.75 341.82 L193 341.81 L193.25 341.81 L193.5 341.8 L193.75 341.79 L194 341.78 L194.25 341.77 L194.5 341.77 L194.75 341.76 L195 341.75 L195.25 341.74 L195.5 341.73 L195.75 341.72 L196 341.71 L196.25 341.7 L196.5 341.7 L196.75 341.69 L197 341.68 L197.25 341.67 L197.5 341.66 L197.75 341.65 L198 341.64 L198.25 341.63 L198.5 341.62 L198.75 341.61 L199 341.6 L199.25 341.59 L199.5 341.58 L199.75 341.57 L200 341.56 L200.25 341.55 L200.5 341.54 L200.75 341.53 L201 341.52 L201.25 341.51 L201.5 341.5 L201.75 341.49 L202 341.48 L202.25 341.47 L202.5 341.46 L202.75 341.45 L203 341.44 L203.25 341.43 L203.5 341.42 L203.75 341.41 L204 341.4 L204.25 341.39 L204.5 341.38 L204.75 341.37 L205 341.36 L205.25 341.35 L205.5 341.34 L205.75 341.33 L206 341.32 L206.25 341.31 L206.5 341.3 L206.75 341.29 L207 341.28 L207.25 341.27 L207.5 341.26 L207.75 341.25 L208 341.24 L208.25 341.23 L208.5 341.22 L208.75 341.21 L209 341.2 L209.25 341.2 L209.5 341.19 L209.75 341.18 L210 341.17 L210.25 341.16 L210.5 341.15 L210.75 341.14 L211 341.13 L211.25 341.13 L211.5 341.12 L211.75 341.11 L212 341.1 L212.25 341.09 L212.5 341.09 L212.75 341.08 L213 341.07 L213.25 341.06 L213.5 341.06 L213.75 341.05 L214 341.04 L214.25 341.04 L214.5 341.03 L214.75 341.02 L215 341.02 L215.25 341.01 L215.5 341.01 L215.75 341 L216 340.99 L216.25 340.99 L216.5 340.98 L216.75 340.98 L217 340.97 L217.25 340.97 L217.5 340.96 L217.75 340.96 L218 340.95 L218.25 340.95 L218.5 340.94 L218.75 340.94 L219 340.94 L219.25 340.93 L219.5 340.93 L219.75 340.93 L220 340.92 L220.25 340.92 L220.5 340.92 L220.75 340.92 L221 340.91 L221.25 340.91 L221.5 340.91 L221.75 340.91 L222 340.91 L222.25 340.9 L222.5 340.9 L222.75 340.9 L223 340.9 L223.25 340.9 L223.5 340.9 L223.75 340.9 L224 340.9 L224.25 340.9 L224.5 340.9 L224.75 340.9 L225 340.9 L225.25 340.9 L225.5 340.9 L225.75 340.9 L226 340.9 L226.25 340.9 L226.5 340.9 L226.75 340.9 L227 340.9 L227.25 340.9 L227.5 340.9 L227.75 340.9 L228 340.9 L228.25 340.9 L228.5 340.9 L228.75 340.9 L229 340.9 L229.25 340.9 L229.5 340.9 L229.75 340.9 L230 340.9 L230.25 340.9 L230.5 340.9 L230.75 340.9 L231 340.9 L231.25 340.9 L231.5 340.9 L231.75 340.9 L232 340.9 L232.25 340.9 L232.5 340.9 L232.75 340.9 L233 340.9 L233.25 340.9 L233.5 340.9 L233.75 340.9 L234 340.9 L234.25 340.9 L234.5 340.9 L234.75 340.9 L235 340.9 L235.25 340.9 L235.5 340.9 L235.75 340.9 L236 340.9 L236.25 340.9 L236.5 340.9 L236.75 340.9 L237 340.9 L237.25 340.9 L237.5 340.9 L237.75 340.9 L238 340.9 L238.25 340.9 L238.5 340.9 L238.75 340.9 L239 340.9 L239.25 340.9 L239.5 340.9 L239.75 340.9 L240 340.9 L240.25 340.9 L240.5 340.9 L240.75 340.9 L241 340.9 L241.25 340.9 L241.5 340.9 L241.75 340.9 L242 340.9 L242.25 340.9 L242.5 340.9 L242.75 340.9 L243 340.9 L243.25 340.9 L243.5 340.9 L243.75 340.9 L244 340.9 L244.25 340.9 L244.5 340.9 L244.75 340.9 L245 340.9 L245.25 340.9 L245.5 340.9 L245.75 340.9 L246 340.9 L246.25 340.9 L246.5 340.9 L246.75 340.9 L247 340.9 L247.25 340.9 L247.5 340.9 L247.75 340.9 L248 340.9 L248.25 340.9 L248.5 340.9 L248.75 340.9 L249 340.9 L249.25 340.9 L249.5 340.9 L249.75 340.9 L250 340.9 L250.25 340.9 L250.5 340.9 L250.75 340.9 L251 340.9 L251.25 340.9 L251.5 340.9 L251.75 340.9 L252 340.9 L252.25 340.9 L252.5 340.9 L252.75 340.9 L253 340.9 L253.25 340.9 L253.5 340.9 L253.75 340.9 L254 340.9 L254.25 340.9 L254.5 340.9 L254.75 340.9 L255 340.9 L255.25 340.9 L255.5 340.9 L255.75 340.9 L256 340.9 L256.25 340.9 L256.5 340.9 L256.75 340.9 L257 340.9 L257.25 340.9 L257.5 340.9 L257.75 340.9 L258 340.9 L258.25 340.9 L258.5 340.9 L258.75 340.9 L259 340.9 L259.25 340.9 L259.5 340.9 L259.75 340.9 L260 340.9 L260.25 340.9 L260.5 340.9 L260.75 340.9 L261 340.9 L261.25 340.9 L261.5 340.9 L261.75 340.9 L262 340.9 L262.25 340.9 L262.5 340.9 L262.75 340.9 L263 340.9 L263.25 340.9 L263.5 340.9 L263.75 340.9 L264 340.9 L264.25 340.9 L264.5 340.9 L264.75 340.9 L265 340.9 L265.25 340.9 L265.5 340.9 L265.75 340.9 L266 340.9 L266.25 340.9 L266.5 340.9 L266.75 340.9 L267 340.9 L267.25 340.9 L267.5 340.9 L267.75 340.9 L268 340.9 L268.25 340.9 L268.5 340.9 L268.75 340.9 L269 340.9 L269.25 340.9 L269.5 340.9 L269.75 340.9 L270 340.9 L270.25 340.9 L270.5 340.9 L270.75 340.9 L271 340.9 L271.25 340.9 L271.5 340.9 L271.75 340.9 L272 340.9 L272.25 340.9 L272.5 340.9 L272.75 340.9 L273 340.9 L273.25 340.9 L273.5 340.9 L273.75 340.9 L274 340.9 L274.25 340.9 L274.5 340.9 L274.75 340.9 L275 340.9 L275.25 340.9 L275.5 340.9 L275.75 340.9 L276 340.9 L276.25 340.9 L276.5 340.9 L276.75 340.9 L277 340.9 L277.25 340.9 L277.5 340.9 L277.75 340.9 L278 340.9 L278.25 340.9 L278.5 340.9 L278.75 340.9 L279 340.9 L279.25 340.9 L279.5 340.9 L279.75 340.9 L280 340.9 L280.25 340.9 L280.5 340.9 L280.75 340.9 L281 340.9 L281.25 340.9 L281.5 340.9 L281.75 340.9 L282 340.9 L282.25 340.9 L282.5 340.9 L282.75 340.9 L283 340.9 L283.25 340.9 L283.5 340.9 L283.75 340.9 L284 340.9 L284.25 340.9 L284.5 340.9 L284.75 340.9 L285 340.9 L285.25 340.9 L285.5 340.9 L285.75 340.9 L286 340.9 L286.25 340.9 L286.5 340.9 L286.75 340.9 L287 340.9 L287.25 340.9 L287.5 340.9 L287.75 340.9 L288 340.9 L288.25 340.9 L288.5 340.9 L288.75 340.9 L289 340.9 L289.25 340.9 L289.5 340.9 L289.75 340.9 L290 340.9 L290.25 340.9 L290.5 340.9 L290.75 340.9 L291 340.9 L291.25 340.9 L291.5 340.9 L291.75 340.9 L292 340.9 L292.25 340.9 L292.5 340.9 L292.75 340.9 L293 340.9 L293.25 340.9 L293.5 340.9 L293.75 340.9 L294 340.9 L294.25 340.9 L294.5 340.9 L294.75 340.9 L295 340.9 L295.25 340.9 L295.5 340.9 L295.75 340.9 L296 340.9 L296.25 340.9 L296.5 340.9 L296.75 340.9 L297 340.9 L297.25 340.9 L297.5 340.9 L297.75 340.9 L298 340.9 L298.25 340.9 L298.5 340.9 L298.75 340.9 L299 340.9 L299.25 340.9 L299.5 340.9 L299.75 340.9 L300 340.9 L300.25 340.9 L300.5 340.9 L300.75 340.9 L301 340.9 L301.25 340.9 L301.5 340.9 L301.75 340.9 L302 340.9 L302.25 340.9 L302.5 340.9 L302.75 340.9 L303 340.9 L303.25 340.9 L303.5 340.9 L303.75 340.9 L304 340.9 L304.25 340.9 L304.5 340.9 L304.75 340.9 L305 340.9 L305.25 340.9 L305.5 340.9 L305.75 340.9 L306 340.9 L306.25 340.9 L306.5 340.9 L306.75 340.9 L307 340.9 L307.25 340.9 L307.5 340.9 L307.75 340.9 L308 340.9 L308.25 340.9 L308.5 340.9 L308.75 340.9 L309 340.9 L309.25 340.9 L309.5 340.9 L309.75 340.9 L310 340.9" fill="none" stroke="#8c564b" stroke-width="3.4" stroke-linecap="round" stroke-linejoin="round"/>
<circle cx="382.6" cy="346.4" r="1.6" fill="#2ca02c"/>
</g>
<path d="M52.1 46.76H541.5 M52.1 71.67H541.5 M52.1 96.59H541.5 M52.1 121.5H541.5 M52.1 146.41H541.5 M52.1 171.33H541.5 M52.1 196.25H541.5 M52.1 221.16H541.5 M73.6 229.8V35.7 M167.2 229.8V35.7 M260.8 229.8V35.7 M354.4 229.8V35.7 M448 229.8V35.7 M52.1 272.98H541.5 M52.1 296.15H541.5 M52.1 319.32H541.5 M52.1 342.5H541.5 M52.1 365.68H541.5 M52.1 388.85H541.5 M52.1 412.02H541.5 M52.1 435.2H541.5 M73.6 443.9V250 M167.2 443.9V250 M260.8 443.9V250 M354.4 443.9V250 M448 443.9V250" stroke="#b0b0b0" stroke-width="1" stroke-dasharray="4.8 1.2 0.8 1.2" fill="none"/>
<rect x="51.6" y="35.7" width="489.9" height="194.1" fill="none" stroke="#000" stroke-width="1.1"/>
<rect x="51.6" y="250" width="489.9" height="193.9" fill="none" stroke="#000" stroke-width="1.1"/>
<path d="M48.1 46.76H51.6 M48.1 71.67H51.6 M48.1 96.59H51.6 M48.1 121.5H51.6 M48.1 146.41H51.6 M48.1 171.33H51.6 M48.1 196.25H51.6 M48.1 221.16H51.6 M48.1 272.98H51.6 M48.1 296.15H51.6 M48.1 319.32H51.6 M48.1 342.5H51.6 M48.1 365.68H51.6 M48.1 388.85H51.6 M48.1 412.02H51.6 M48.1 435.2H51.6 M73.6 229.8V233.3 M73.6 443.9V447.4 M167.2 229.8V233.3 M167.2 443.9V447.4 M260.8 229.8V233.3 M260.8 443.9V447.4 M354.4 229.8V233.3 M354.4 443.9V447.4 M448 229.8V233.3 M448 443.9V447.4" stroke="#000" stroke-width="1.1" fill="none"/>
<g style="font-family:&quot;Liberation Sans&quot;,sans-serif" font-weight="bold" font-size="9" fill="#000" text-anchor="end">
<text x="45.4" y="50.06">15</text>
<text x="45.4" y="74.97">10</text>
<text x="45.4" y="99.89">5</text>
<text x="45.4" y="124.8">0</text>
<text x="45.4" y="149.72">−5</text>
<text x="45.4" y="174.63">−10</text>
<text x="45.4" y="199.55">−15</text>
<text x="45.4" y="224.46">−20</text>
<text x="45.4" y="276.28">7.5</text>
<text x="45.4" y="299.45">5.0</text>
<text x="45.4" y="322.62">2.5</text>
<text x="45.4" y="345.8">0.0</text>
<text x="45.4" y="368.98">−2.5</text>
<text x="45.4" y="392.15">−5.0</text>
<text x="45.4" y="415.32">−7.5</text>
<text x="45.4" y="438.5">−10.0</text>
</g>
<g style="font-family:&quot;Liberation Sans&quot;,sans-serif" font-weight="bold" font-size="9" fill="#000" text-anchor="middle">
<text x="73.6" y="457">0</text>
<text x="167.2" y="457">10</text>
<text x="260.8" y="457">20</text>
<text x="354.4" y="457">30</text>
<text x="448" y="457">40</text>
</g>
<g style="font-family:&quot;Liberation Sans&quot;,sans-serif" font-size="14" fill="#000">
<text x="288.5" y="470" text-anchor="middle">time [s]</text>
<text transform="translate(24 132.7) rotate(-90)" text-anchor="middle">Rotation angle of pan mirror. [Deg]</text>
<text transform="translate(17 347) rotate(-90)" text-anchor="middle">Rotation angle of tilt mirror. [Deg]</text>
<rect x="70.5" y="13.8" width="21" height="18.5" fill="#ffd97a"/>
<text x="100.5" y="28">Jumping</text>
<rect x="251.2" y="13.8" width="21" height="18.5" fill="#b5d6a2"/>
<text x="281.3" y="28">Shaking</text>
<rect x="431.9" y="13.8" width="21" height="18.5" fill="#d2d2d2"/>
<text x="461.9" y="28">Crossing</text>
</g>
<rect x="438.9" y="41.3" width="95.8" height="105.8" rx="3" fill="#fff" fill-opacity="0.8" stroke="#cccccc" stroke-width="1"/>
<g style="font-family:&quot;Liberation Sans&quot;,sans-serif" font-size="12" fill="#000">
<circle cx="456" cy="52.6" r="3.3" fill="#1f77b4"/>
<text x="478" y="56.6">Scan</text>
<circle cx="456" cy="69.75" r="3.3" fill="#ff7f0e"/>
<text x="478" y="73.75">Person: 1</text>
<circle cx="456" cy="86.9" r="3.3" fill="#2ca02c"/>
<text x="478" y="90.9">Person: 2</text>
<circle cx="456" cy="104.05" r="3.3" fill="#d62728"/>
<text x="478" y="108.05">Person: 3</text>
<circle cx="456" cy="121.2" r="3.3" fill="#9467bd"/>
<text x="478" y="125.2">Person: 4</text>
<circle cx="456" cy="138.35" r="3.3" fill="#8c564b"/>
<text x="478" y="142.35">Person: 5</text>
</g>
<rect x="438.9" y="255.6" width="95.8" height="105.8" rx="3" fill="#fff" fill-opacity="0.8" stroke="#cccccc" stroke-width="1"/>
<g style="font-family:&quot;Liberation Sans&quot;,sans-serif" font-size="12" fill="#000">
<circle cx="456" cy="266.9" r="3.3" fill="#1f77b4"/>
<text x="478" y="270.9">Scan</text>
<circle cx="456" cy="284.05" r="3.3" fill="#ff7f0e"/>
<text x="478" y="288.05">Person: 1</text>
<circle cx="456" cy="301.2" r="3.3" fill="#2ca02c"/>
<text x="478" y="305.2">Person: 2</text>
<circle cx="456" cy="318.35" r="3.3" fill="#d62728"/>
<text x="478" y="322.35">Person: 3</text>
<circle cx="456" cy="335.5" r="3.3" fill="#9467bd"/>
<text x="478" y="339.5">Person: 4</text>
<circle cx="456" cy="352.65" r="3.3" fill="#8c564b"/>
<text x="478" y="356.65">Person: 5</text>
</g>
</svg>
</body></html>
